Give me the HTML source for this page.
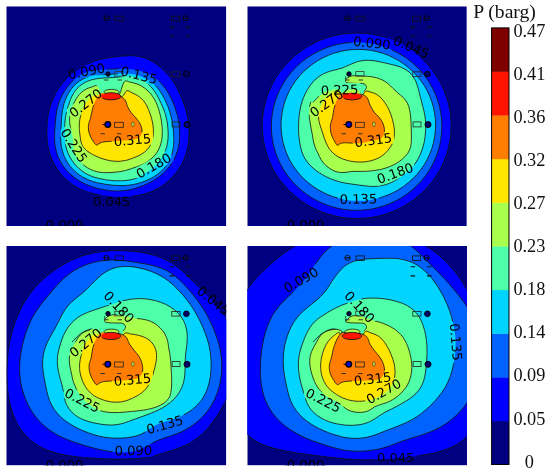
<!DOCTYPE html><html><head><meta charset="utf-8"><style>html,body{margin:0;padding:0;background:#fff;width:550px;height:473px;overflow:hidden}svg{display:block}</style></head><body>
<svg width="550" height="473" viewBox="0 0 550 473">
<defs>
<clipPath id="cTL"><rect x="6.3" y="6.3" width="220.0" height="219.7"/></clipPath>
<clipPath id="cTR"><rect x="247.3" y="6.3" width="219.5" height="219.7"/></clipPath>
<clipPath id="cBL"><rect x="6.3" y="246.0" width="220.0" height="219.4"/></clipPath>
<clipPath id="cBR"><rect x="247.3" y="246.0" width="219.7" height="219.4"/></clipPath>
<clipPath id="lTL"><rect x="65.8" y="64.5" width="41.5" height="13.0" transform="rotate(-11.0 86.5 71.0)"/><rect x="118.3" y="68.5" width="41.5" height="13.0" transform="rotate(14.0 139.0 75.0)"/><rect x="64.9" y="96.5" width="41.5" height="13.0" transform="rotate(-38.0 85.6 103.0)"/><rect x="53.4" y="139.0" width="41.5" height="13.0" transform="rotate(57.0 74.1 145.5)"/><rect x="111.7" y="133.3" width="41.5" height="13.0" transform="rotate(-5.0 132.4 139.8)"/><rect x="132.8" y="159.0" width="41.5" height="13.0" transform="rotate(-29.5 153.5 165.5)"/><rect x="91.0" y="195.0" width="41.5" height="13.0" transform="rotate(0.0 111.7 201.5)"/><rect x="43.9" y="217.3" width="41.5" height="13.0" transform="rotate(0.0 64.6 223.8)"/></clipPath><clipPath id="lTR"><rect x="351.2" y="36.4" width="41.5" height="13.0" transform="rotate(6.0 371.9 42.9)"/><rect x="390.7" y="40.5" width="41.5" height="13.0" transform="rotate(23.0 411.4 47.0)"/><rect x="318.9" y="83.3" width="41.5" height="13.0" transform="rotate(-2.0 339.6 89.8)"/><rect x="305.7" y="96.6" width="41.5" height="13.0" transform="rotate(-35.5 326.4 103.1)"/><rect x="352.5" y="133.5" width="41.5" height="13.0" transform="rotate(-8.0 373.2 140.0)"/><rect x="374.4" y="166.6" width="41.5" height="13.0" transform="rotate(-20.0 395.1 173.1)"/><rect x="337.7" y="192.4" width="41.5" height="13.0" transform="rotate(-1.0 358.4 198.9)"/><rect x="284.9" y="217.3" width="41.5" height="13.0" transform="rotate(0.0 305.6 223.8)"/></clipPath><clipPath id="lBL"><rect x="98.4" y="300.3" width="41.5" height="13.0" transform="rotate(47.0 119.1 306.8)"/><rect x="192.8" y="294.2" width="41.5" height="13.0" transform="rotate(39.0 213.5 300.7)"/><rect x="64.8" y="336.0" width="41.5" height="13.0" transform="rotate(-39.0 85.5 342.5)"/><rect x="111.7" y="373.0" width="41.5" height="13.0" transform="rotate(-5.0 132.4 379.5)"/><rect x="61.7" y="393.7" width="41.5" height="13.0" transform="rotate(27.0 82.4 400.2)"/><rect x="144.1" y="418.1" width="41.5" height="13.0" transform="rotate(-16.0 164.8 424.6)"/><rect x="112.7" y="444.0" width="41.5" height="13.0" transform="rotate(-1.0 133.4 450.5)"/><rect x="43.9" y="457.4" width="41.5" height="13.0" transform="rotate(0.0 64.6 463.9)"/></clipPath><clipPath id="lBR"><rect x="280.2" y="273.3" width="41.5" height="13.0" transform="rotate(-29.5 300.9 279.8)"/><rect x="339.0" y="300.3" width="41.5" height="13.0" transform="rotate(47.5 359.7 306.8)"/><rect x="435.4" y="335.5" width="41.5" height="13.0" transform="rotate(85.0 456.1 342.0)"/><rect x="351.8" y="372.2" width="41.5" height="13.0" transform="rotate(-7.0 372.5 378.7)"/><rect x="362.8" y="384.7" width="41.5" height="13.0" transform="rotate(-29.0 383.5 391.2)"/><rect x="302.7" y="393.7" width="41.5" height="13.0" transform="rotate(27.0 323.4 400.2)"/><rect x="375.0" y="450.7" width="41.5" height="13.0" transform="rotate(0.0 395.7 457.2)"/><rect x="284.9" y="457.4" width="41.5" height="13.0" transform="rotate(0.0 305.6 463.9)"/></clipPath>
</defs>
<g clip-path="url(#cTL)">
<rect x="6.3" y="6.3" width="220.0" height="219.7" fill="#000080"/>
<path d="M188.7,124.0C189.0,127.3 189.2,130.7 189.1,134.0C189.0,137.4 188.8,140.8 188.2,144.2C187.7,147.5 186.9,150.9 185.9,154.2C184.8,157.4 183.5,160.7 181.9,163.8C180.3,166.8 178.4,169.8 176.3,172.6C174.2,175.3 171.8,177.9 169.2,180.2C166.7,182.6 163.9,184.7 161.0,186.6C158.1,188.4 155.0,190.0 151.9,191.4C148.8,192.7 145.5,193.7 142.2,194.5C139.0,195.3 135.6,195.8 132.3,196.2C129.1,196.5 125.8,196.6 122.6,196.7C119.3,196.7 116.2,196.6 113.0,196.4C109.8,196.2 106.7,195.9 103.6,195.5C100.5,195.1 97.3,194.6 94.3,193.9C91.2,193.1 88.1,192.3 85.2,191.2C82.2,190.1 79.3,188.7 76.5,187.2C73.8,185.6 71.1,183.8 68.7,181.8C66.2,179.8 63.9,177.5 61.8,175.2C59.7,172.8 57.8,170.3 56.2,167.6C54.5,165.0 53.1,162.2 51.9,159.3C50.7,156.5 49.7,153.5 48.9,150.5C48.2,147.6 47.7,144.6 47.4,141.6C47.0,138.6 46.9,135.6 46.8,132.7C46.8,129.8 46.9,126.9 47.1,124.0C47.3,121.1 47.6,118.3 48.1,115.5C48.6,112.6 49.2,109.8 50.0,107.1C50.8,104.4 51.8,101.7 52.9,99.1C54.0,96.5 55.3,93.9 56.7,91.5C58.1,89.1 59.7,86.7 61.5,84.5C63.2,82.2 65.2,80.1 67.2,78.2C69.2,76.3 71.5,74.5 73.7,72.8C76.0,71.2 78.4,69.7 80.8,68.2C83.2,66.7 85.6,65.3 88.1,64.0C90.7,62.7 93.3,61.5 96.0,60.6C98.7,59.6 101.5,59.0 104.4,58.4C107.2,57.9 110.1,57.5 113.0,57.1C115.9,56.7 118.9,56.4 121.9,56.1C125.0,55.9 128.2,55.6 131.3,55.7C134.5,55.8 137.7,56.1 140.8,56.8C143.9,57.5 147.0,58.7 149.9,60.1C152.7,61.6 155.5,63.4 158.0,65.3C160.6,67.2 163.0,69.4 165.3,71.7C167.5,74.0 169.6,76.5 171.5,79.1C173.4,81.7 175.0,84.5 176.6,87.3C178.1,90.1 179.5,93.0 180.8,95.9C182.1,98.8 183.3,101.8 184.3,104.9C185.4,107.9 186.3,111.1 187.0,114.3C187.7,117.4 188.3,120.7 188.7,124.0Z" fill="#0000FF" stroke="#111" stroke-width="0.8"/>
<path d="M179.0,124.0C179.3,126.9 179.6,129.8 179.6,132.8C179.7,135.7 179.6,138.8 179.3,141.8C178.9,144.7 178.4,147.8 177.5,150.7C176.6,153.6 175.5,156.6 174.1,159.3C172.7,162.0 171.0,164.6 169.1,167.0C167.2,169.4 165.0,171.7 162.7,173.7C160.5,175.8 158.0,177.6 155.4,179.3C152.9,180.9 150.2,182.4 147.4,183.7C144.7,185.0 141.9,186.1 139.1,187.1C136.3,188.1 133.5,188.9 130.6,189.6C127.7,190.2 124.7,190.6 121.8,190.8C118.9,191.1 115.9,191.0 113.0,190.9C110.1,190.7 107.2,190.3 104.3,189.8C101.5,189.4 98.6,188.7 95.9,187.9C93.1,187.1 90.3,186.2 87.7,185.1C85.0,184.0 82.4,182.7 79.9,181.3C77.5,179.8 75.1,178.1 72.8,176.3C70.6,174.5 68.5,172.5 66.6,170.4C64.7,168.3 63.0,165.9 61.5,163.5C60.0,161.1 58.7,158.5 57.7,155.9C56.7,153.3 56.0,150.5 55.5,147.8C54.9,145.1 54.7,142.3 54.6,139.6C54.5,137.0 54.6,134.3 54.7,131.7C54.8,129.1 55.0,126.5 55.2,124.0C55.4,121.5 55.6,119.0 55.9,116.5C56.2,114.0 56.6,111.5 57.1,109.0C57.7,106.6 58.4,104.1 59.2,101.7C60.1,99.4 61.2,97.0 62.4,94.8C63.6,92.6 65.0,90.4 66.5,88.3C68.0,86.2 69.6,84.2 71.4,82.4C73.1,80.5 75.0,78.7 77.1,77.2C79.2,75.7 81.4,74.3 83.7,73.2C86.0,72.2 88.5,71.4 91.0,70.8C93.4,70.2 96.0,70.0 98.5,69.8C100.9,69.5 103.4,69.5 105.8,69.4C108.2,69.2 110.6,69.1 113.0,69.1C115.4,69.0 117.8,68.8 120.3,68.8C122.7,68.8 125.2,68.8 127.7,69.0C130.3,69.1 132.9,69.4 135.4,69.8C138.0,70.3 140.6,70.9 143.1,71.8C145.6,72.7 148.2,73.8 150.5,75.1C152.9,76.4 155.2,77.9 157.3,79.7C159.4,81.4 161.4,83.4 163.1,85.5C164.9,87.6 166.5,89.9 167.9,92.3C169.3,94.7 170.6,97.1 171.8,99.7C172.9,102.2 174.0,104.8 174.9,107.4C175.8,110.1 176.7,112.8 177.4,115.5C178.0,118.3 178.6,121.1 179.0,124.0Z" fill="#0063FF" stroke="#111" stroke-width="0.8"/>
<path d="M172.5,124.0C173.0,126.6 173.3,129.2 173.5,132.0C173.7,134.7 173.9,137.5 173.8,140.3C173.7,143.1 173.6,146.0 173.1,148.9C172.6,151.7 171.9,154.7 170.8,157.4C169.7,160.1 168.3,162.7 166.6,165.1C164.9,167.5 162.9,169.7 160.7,171.7C158.5,173.7 156.1,175.4 153.6,176.9C151.1,178.4 148.4,179.6 145.8,180.8C143.1,181.9 140.4,182.8 137.7,183.5C134.9,184.3 132.1,184.8 129.4,185.1C126.6,185.5 123.8,185.6 121.1,185.6C118.4,185.6 115.7,185.4 113.0,185.2C110.3,185.0 107.7,184.6 105.1,184.2C102.5,183.8 99.8,183.3 97.3,182.7C94.7,182.0 92.1,181.3 89.7,180.3C87.2,179.3 84.8,178.2 82.5,176.9C80.2,175.5 78.0,174.0 76.0,172.3C74.0,170.5 72.1,168.6 70.4,166.6C68.8,164.5 67.3,162.3 66.1,160.0C64.9,157.7 63.8,155.3 63.0,152.9C62.2,150.4 61.6,147.9 61.2,145.5C60.8,143.0 60.7,140.5 60.7,138.0C60.6,135.6 60.8,133.2 60.8,130.9C60.9,128.5 61.0,126.3 61.2,124.0C61.3,121.7 61.4,119.5 61.6,117.2C61.8,115.0 62.1,112.7 62.5,110.5C62.9,108.2 63.4,105.9 64.0,103.7C64.7,101.5 65.5,99.3 66.5,97.1C67.4,95.0 68.6,92.9 69.9,90.9C71.2,89.0 72.8,87.1 74.4,85.4C76.1,83.7 77.9,82.2 79.9,80.8C81.8,79.5 84.0,78.4 86.2,77.5C88.3,76.6 90.7,76.0 92.9,75.6C95.2,75.1 97.5,74.9 99.8,74.7C102.1,74.6 104.3,74.6 106.5,74.5C108.7,74.3 110.8,74.2 113.0,74.1C115.2,74.0 117.4,73.7 119.6,73.6C121.9,73.5 124.2,73.4 126.5,73.5C128.9,73.6 131.3,73.8 133.6,74.2C136.0,74.7 138.3,75.3 140.6,76.2C142.9,77.0 145.2,78.1 147.3,79.3C149.4,80.6 151.4,82.1 153.3,83.7C155.2,85.3 156.9,87.2 158.4,89.1C160.0,91.1 161.3,93.2 162.6,95.4C163.9,97.5 165.0,99.8 166.0,102.0C167.0,104.3 168.0,106.7 168.8,109.0C169.7,111.4 170.4,113.9 171.0,116.4C171.7,118.9 172.1,121.4 172.5,124.0Z" fill="#00D4FF" stroke="#111" stroke-width="0.8"/>
<path d="M167.5,124.0C167.8,126.4 168.0,128.8 168.1,131.3C168.2,133.7 168.2,136.2 168.0,138.7C167.8,141.2 167.4,143.8 166.8,146.3C166.2,148.8 165.3,151.2 164.2,153.6C163.1,155.9 161.7,158.1 160.1,160.2C158.6,162.2 156.8,164.1 154.9,165.9C153.0,167.6 150.9,169.2 148.9,170.8C146.8,172.3 144.8,173.9 142.6,175.2C140.3,176.5 138.0,177.7 135.6,178.5C133.2,179.3 130.6,179.8 128.1,180.2C125.5,180.6 123.0,180.7 120.5,180.8C118.0,180.9 115.5,180.8 113.0,180.6C110.5,180.4 108.1,180.1 105.7,179.8C103.2,179.4 100.8,178.9 98.4,178.3C96.1,177.7 93.7,177.1 91.4,176.2C89.1,175.2 86.9,174.2 84.8,172.9C82.7,171.6 80.7,170.1 78.9,168.5C77.1,166.8 75.4,165.0 73.9,163.1C72.4,161.2 71.1,159.1 69.9,157.0C68.8,155.0 67.8,152.7 67.1,150.5C66.3,148.3 65.8,146.0 65.4,143.7C65.1,141.4 65.0,139.1 64.9,136.9C64.8,134.7 64.8,132.5 64.8,130.4C64.7,128.2 64.7,126.1 64.8,124.0C64.9,121.9 65.1,119.8 65.4,117.7C65.7,115.7 66.2,113.6 66.7,111.6C67.2,109.5 67.7,107.5 68.4,105.5C69.0,103.5 69.7,101.5 70.5,99.5C71.3,97.5 72.2,95.4 73.4,93.6C74.5,91.7 75.8,89.9 77.3,88.3C78.8,86.7 80.5,85.3 82.3,84.1C84.2,82.8 86.2,81.8 88.2,81.0C90.2,80.2 92.3,79.6 94.4,79.2C96.5,78.7 98.7,78.5 100.7,78.3C102.8,78.0 104.9,78.0 106.9,77.9C109.0,77.8 111.0,77.7 113.0,77.6C115.0,77.4 117.1,77.2 119.2,77.0C121.3,76.8 123.5,76.4 125.8,76.3C128.0,76.3 130.4,76.3 132.6,76.6C134.9,77.0 137.2,77.6 139.3,78.5C141.4,79.3 143.5,80.5 145.4,81.8C147.3,83.1 149.0,84.7 150.6,86.4C152.2,88.1 153.6,89.9 154.9,91.8C156.2,93.7 157.3,95.8 158.4,97.8C159.5,99.8 160.5,101.8 161.4,103.9C162.4,106.0 163.3,108.1 164.1,110.3C164.9,112.5 165.6,114.7 166.1,117.0C166.7,119.3 167.1,121.6 167.5,124.0Z" fill="#4DFFA9" stroke="#111" stroke-width="0.8"/>
<path d="M161.8,124.0C162.1,126.1 162.3,128.3 162.3,130.5C162.3,132.7 162.3,134.9 162.1,137.2C161.8,139.4 161.5,141.7 160.8,143.8C160.2,146.0 159.4,148.2 158.3,150.2C157.2,152.1 155.9,154.1 154.4,155.8C152.9,157.4 151.1,159.0 149.3,160.3C147.5,161.7 145.5,162.8 143.6,163.8C141.6,164.9 139.5,165.7 137.5,166.5C135.5,167.3 133.5,168.0 131.5,168.6C129.5,169.3 127.5,169.9 125.4,170.5C123.4,171.0 121.4,171.3 119.3,171.7C117.2,172.0 115.1,172.2 113.0,172.4C110.9,172.6 108.7,172.7 106.6,172.7C104.4,172.7 102.2,172.6 100.1,172.3C97.9,172.0 95.7,171.5 93.6,170.7C91.6,170.0 89.5,169.0 87.7,167.9C85.8,166.8 84.0,165.4 82.4,163.9C80.8,162.4 79.3,160.7 78.0,159.0C76.8,157.2 75.6,155.3 74.8,153.3C74.1,151.3 73.7,149.0 73.4,146.9C73.1,144.7 73.4,142.5 73.2,140.5C73.1,138.5 72.7,136.7 72.3,134.9C72.0,133.1 71.3,131.4 70.9,129.5C70.5,127.7 70.1,125.9 69.8,124.0C69.6,122.1 69.5,120.2 69.6,118.3C69.7,116.4 70.1,114.5 70.5,112.6C70.9,110.8 71.6,108.9 72.3,107.1C72.9,105.3 73.7,103.5 74.6,101.8C75.4,100.1 76.4,98.3 77.5,96.8C78.7,95.2 80.0,93.7 81.4,92.4C82.8,91.1 84.5,90.0 86.2,89.1C87.9,88.2 89.8,87.6 91.7,87.1C93.6,86.6 95.5,84.7 97.4,86.2C99.2,87.8 100.9,94.8 102.7,96.5C104.4,98.2 106.1,96.5 107.8,96.5C109.5,96.5 111.2,96.5 113.0,96.5C114.8,96.5 116.6,98.9 118.5,96.5C120.3,94.1 122.3,84.3 124.3,81.9C126.2,79.6 128.3,81.9 130.3,82.2C132.3,82.5 134.4,83.0 136.3,83.7C138.2,84.3 140.1,85.2 141.9,86.3C143.7,87.4 145.4,88.6 147.0,90.0C148.6,91.4 150.0,93.0 151.3,94.6C152.6,96.2 153.8,98.0 154.8,99.9C155.8,101.7 156.7,103.6 157.4,105.6C158.2,107.5 158.8,109.6 159.4,111.6C159.9,113.6 160.4,115.6 160.8,117.7C161.2,119.8 161.6,121.9 161.8,124.0Z" fill="#A9FF4D" stroke="#111" stroke-width="0.8"/>
<path d="M152.8,124.0C153.1,125.7 153.3,127.5 153.4,129.3C153.4,131.1 153.4,133.0 153.2,134.8C153.0,136.6 152.8,138.5 152.2,140.3C151.7,142.0 151.1,143.8 150.2,145.4C149.3,147.1 148.1,148.6 146.8,150.0C145.6,151.3 144.0,152.5 142.5,153.5C141.0,154.6 139.3,155.4 137.7,156.2C136.0,156.9 134.4,157.6 132.7,158.2C131.1,158.8 129.5,159.4 127.9,159.9C126.2,160.3 124.6,160.7 122.9,160.9C121.2,161.2 119.6,161.3 117.9,161.4C116.3,161.4 114.6,161.3 113.0,161.1C111.4,161.0 109.8,160.7 108.2,160.3C106.6,160.0 105.1,159.6 103.6,159.1C102.1,158.6 100.6,158.1 99.1,157.5C97.6,156.9 96.2,156.3 94.8,155.6C93.3,154.9 91.9,154.2 90.5,153.3C89.1,152.4 87.8,151.5 86.5,150.5C85.3,149.4 84.1,148.2 83.2,146.9C82.3,145.5 81.6,143.9 81.1,142.4C80.7,140.8 80.5,139.1 80.3,137.5C80.1,136.0 79.9,134.4 79.7,132.9C79.5,131.4 79.3,129.9 79.3,128.4C79.2,127.0 79.2,125.5 79.3,124.0C79.4,122.5 79.5,121.1 79.8,119.6C80.0,118.2 80.4,116.8 80.7,115.4C81.1,114.0 81.6,112.6 82.1,111.2C82.6,109.8 83.1,108.5 83.8,107.1C84.4,105.8 85.1,104.4 85.9,103.2C86.7,102.0 87.7,100.8 88.7,99.7C89.8,98.7 91.0,97.7 92.2,96.9C93.4,96.0 94.7,94.7 96.0,94.6C97.3,94.5 98.7,96.2 100.1,96.5C101.4,96.8 102.8,96.5 104.2,96.5C105.6,96.5 107.0,96.5 108.5,96.5C110.0,96.5 111.5,96.5 113.0,96.5C114.5,96.5 116.1,96.5 117.7,96.5C119.2,96.5 120.8,97.5 122.3,96.5C123.8,95.5 125.3,91.4 126.8,90.7C128.3,90.0 129.8,91.8 131.2,92.4C132.7,93.0 134.2,93.7 135.7,94.5C137.1,95.3 138.5,96.1 139.8,97.2C141.1,98.2 142.4,99.4 143.5,100.6C144.5,101.9 145.4,103.3 146.3,104.8C147.1,106.2 147.7,107.8 148.4,109.3C149.0,110.9 149.6,112.5 150.2,114.0C150.7,115.6 151.2,117.3 151.7,118.9C152.1,120.6 152.5,122.3 152.8,124.0Z" fill="#FFE600" stroke="#111" stroke-width="0.8"/>
<path d="M101.0,93.3C103.4,92.4 107.1,94.5 110.2,95.0C113.2,95.5 116.9,95.5 119.4,96.3C121.8,97.1 123.6,97.9 124.9,99.7C126.3,101.4 126.5,104.4 127.6,106.7C128.7,108.9 130.0,111.1 131.4,113.0C132.8,114.8 134.5,116.1 135.9,117.9C137.4,119.8 139.2,121.7 140.2,124.0C141.2,126.3 142.3,129.6 142.0,132.0C141.8,134.3 140.6,136.7 138.6,138.0C136.6,139.4 133.5,139.6 130.1,140.0C126.6,140.5 122.0,140.7 118.0,141.0C114.0,141.3 109.0,141.3 106.0,141.6C103.0,141.9 101.6,142.4 100.0,143.0C98.4,143.6 97.7,145.3 96.5,145.0C95.3,144.7 94.2,142.8 93.0,141.0C91.9,139.2 90.2,136.7 89.5,134.1C88.7,131.6 88.2,128.6 88.4,125.8C88.6,123.0 90.0,120.2 90.7,117.4C91.4,114.6 91.6,111.8 92.5,108.9C93.3,106.1 94.2,103.0 95.6,100.4C97.0,97.8 98.6,94.2 101.0,93.3Z" fill="#FF7D00" stroke="#111" stroke-width="0.8"/>
<path d="M119.0,92.0C119.0,92.3 118.8,92.7 118.4,93.0C118.1,93.3 117.5,93.6 116.8,93.8C116.1,94.1 115.3,94.3 114.4,94.4C113.5,94.5 112.5,94.6 111.5,94.6C110.5,94.6 109.5,94.5 108.6,94.4C107.7,94.3 106.9,94.1 106.2,93.8C105.5,93.6 104.9,93.3 104.6,93.0C104.2,92.7 104.0,92.3 104.0,92.0C104.0,91.7 104.2,91.3 104.6,91.0C104.9,90.7 105.5,90.4 106.2,90.2C106.9,89.9 107.7,89.7 108.6,89.6C109.5,89.5 110.5,89.4 111.5,89.4C112.5,89.4 113.5,89.5 114.4,89.6C115.3,89.7 116.1,89.9 116.8,90.2C117.5,90.4 118.1,90.7 118.4,91.0C118.8,91.3 119.0,91.7 119.0,92.0Z" fill="#A9FF4D" stroke="#111" stroke-width="0.8"/>
<path d="M120.8,96.3C120.8,96.7 120.6,97.1 120.3,97.4C120.0,97.8 119.5,98.1 118.9,98.4C118.3,98.7 117.6,99.0 116.8,99.2C115.9,99.4 115.0,99.6 114.0,99.7C113.1,99.8 112.0,99.9 111.0,99.9C110.0,99.9 108.9,99.8 108.0,99.7C107.0,99.6 106.1,99.4 105.2,99.2C104.4,99.0 103.7,98.7 103.1,98.4C102.5,98.1 102.0,97.8 101.7,97.4C101.4,97.1 101.2,96.7 101.2,96.3C101.2,95.9 101.4,95.5 101.7,95.2C102.0,94.8 102.5,94.5 103.1,94.2C103.7,93.9 104.4,93.6 105.2,93.4C106.1,93.2 107.0,93.0 108.0,92.9C108.9,92.8 110.0,92.7 111.0,92.7C112.0,92.7 113.1,92.8 114.0,92.9C115.0,93.0 115.9,93.2 116.8,93.4C117.6,93.6 118.3,93.9 118.9,94.2C119.5,94.5 120.0,94.8 120.3,95.2C120.6,95.5 120.8,95.9 120.8,96.3Z" fill="#FF1400" stroke="#111" stroke-width="0.8"/>
<g clip-path="url(#lTL)"><g opacity="0.999">
<rect x="6.3" y="6.3" width="220.0" height="219.7" fill="#000080"/>
<path d="M188.7,124.0C189.0,127.3 189.2,130.7 189.1,134.0C189.0,137.4 188.8,140.8 188.2,144.2C187.7,147.5 186.9,150.9 185.9,154.2C184.8,157.4 183.5,160.7 181.9,163.8C180.3,166.8 178.4,169.8 176.3,172.6C174.2,175.3 171.8,177.9 169.2,180.2C166.7,182.6 163.9,184.7 161.0,186.6C158.1,188.4 155.0,190.0 151.9,191.4C148.8,192.7 145.5,193.7 142.2,194.5C139.0,195.3 135.6,195.8 132.3,196.2C129.1,196.5 125.8,196.6 122.6,196.7C119.3,196.7 116.2,196.6 113.0,196.4C109.8,196.2 106.7,195.9 103.6,195.5C100.5,195.1 97.3,194.6 94.3,193.9C91.2,193.1 88.1,192.3 85.2,191.2C82.2,190.1 79.3,188.7 76.5,187.2C73.8,185.6 71.1,183.8 68.7,181.8C66.2,179.8 63.9,177.5 61.8,175.2C59.7,172.8 57.8,170.3 56.2,167.6C54.5,165.0 53.1,162.2 51.9,159.3C50.7,156.5 49.7,153.5 48.9,150.5C48.2,147.6 47.7,144.6 47.4,141.6C47.0,138.6 46.9,135.6 46.8,132.7C46.8,129.8 46.9,126.9 47.1,124.0C47.3,121.1 47.6,118.3 48.1,115.5C48.6,112.6 49.2,109.8 50.0,107.1C50.8,104.4 51.8,101.7 52.9,99.1C54.0,96.5 55.3,93.9 56.7,91.5C58.1,89.1 59.7,86.7 61.5,84.5C63.2,82.2 65.2,80.1 67.2,78.2C69.2,76.3 71.5,74.5 73.7,72.8C76.0,71.2 78.4,69.7 80.8,68.2C83.2,66.7 85.6,65.3 88.1,64.0C90.7,62.7 93.3,61.5 96.0,60.6C98.7,59.6 101.5,59.0 104.4,58.4C107.2,57.9 110.1,57.5 113.0,57.1C115.9,56.7 118.9,56.4 121.9,56.1C125.0,55.9 128.2,55.6 131.3,55.7C134.5,55.8 137.7,56.1 140.8,56.8C143.9,57.5 147.0,58.7 149.9,60.1C152.7,61.6 155.5,63.4 158.0,65.3C160.6,67.2 163.0,69.4 165.3,71.7C167.5,74.0 169.6,76.5 171.5,79.1C173.4,81.7 175.0,84.5 176.6,87.3C178.1,90.1 179.5,93.0 180.8,95.9C182.1,98.8 183.3,101.8 184.3,104.9C185.4,107.9 186.3,111.1 187.0,114.3C187.7,117.4 188.3,120.7 188.7,124.0Z" fill="#0000FF"/>
<path d="M179.0,124.0C179.3,126.9 179.6,129.8 179.6,132.8C179.7,135.7 179.6,138.8 179.3,141.8C178.9,144.7 178.4,147.8 177.5,150.7C176.6,153.6 175.5,156.6 174.1,159.3C172.7,162.0 171.0,164.6 169.1,167.0C167.2,169.4 165.0,171.7 162.7,173.7C160.5,175.8 158.0,177.6 155.4,179.3C152.9,180.9 150.2,182.4 147.4,183.7C144.7,185.0 141.9,186.1 139.1,187.1C136.3,188.1 133.5,188.9 130.6,189.6C127.7,190.2 124.7,190.6 121.8,190.8C118.9,191.1 115.9,191.0 113.0,190.9C110.1,190.7 107.2,190.3 104.3,189.8C101.5,189.4 98.6,188.7 95.9,187.9C93.1,187.1 90.3,186.2 87.7,185.1C85.0,184.0 82.4,182.7 79.9,181.3C77.5,179.8 75.1,178.1 72.8,176.3C70.6,174.5 68.5,172.5 66.6,170.4C64.7,168.3 63.0,165.9 61.5,163.5C60.0,161.1 58.7,158.5 57.7,155.9C56.7,153.3 56.0,150.5 55.5,147.8C54.9,145.1 54.7,142.3 54.6,139.6C54.5,137.0 54.6,134.3 54.7,131.7C54.8,129.1 55.0,126.5 55.2,124.0C55.4,121.5 55.6,119.0 55.9,116.5C56.2,114.0 56.6,111.5 57.1,109.0C57.7,106.6 58.4,104.1 59.2,101.7C60.1,99.4 61.2,97.0 62.4,94.8C63.6,92.6 65.0,90.4 66.5,88.3C68.0,86.2 69.6,84.2 71.4,82.4C73.1,80.5 75.0,78.7 77.1,77.2C79.2,75.7 81.4,74.3 83.7,73.2C86.0,72.2 88.5,71.4 91.0,70.8C93.4,70.2 96.0,70.0 98.5,69.8C100.9,69.5 103.4,69.5 105.8,69.4C108.2,69.2 110.6,69.1 113.0,69.1C115.4,69.0 117.8,68.8 120.3,68.8C122.7,68.8 125.2,68.8 127.7,69.0C130.3,69.1 132.9,69.4 135.4,69.8C138.0,70.3 140.6,70.9 143.1,71.8C145.6,72.7 148.2,73.8 150.5,75.1C152.9,76.4 155.2,77.9 157.3,79.7C159.4,81.4 161.4,83.4 163.1,85.5C164.9,87.6 166.5,89.9 167.9,92.3C169.3,94.7 170.6,97.1 171.8,99.7C172.9,102.2 174.0,104.8 174.9,107.4C175.8,110.1 176.7,112.8 177.4,115.5C178.0,118.3 178.6,121.1 179.0,124.0Z" fill="#0063FF"/>
<path d="M172.5,124.0C173.0,126.6 173.3,129.2 173.5,132.0C173.7,134.7 173.9,137.5 173.8,140.3C173.7,143.1 173.6,146.0 173.1,148.9C172.6,151.7 171.9,154.7 170.8,157.4C169.7,160.1 168.3,162.7 166.6,165.1C164.9,167.5 162.9,169.7 160.7,171.7C158.5,173.7 156.1,175.4 153.6,176.9C151.1,178.4 148.4,179.6 145.8,180.8C143.1,181.9 140.4,182.8 137.7,183.5C134.9,184.3 132.1,184.8 129.4,185.1C126.6,185.5 123.8,185.6 121.1,185.6C118.4,185.6 115.7,185.4 113.0,185.2C110.3,185.0 107.7,184.6 105.1,184.2C102.5,183.8 99.8,183.3 97.3,182.7C94.7,182.0 92.1,181.3 89.7,180.3C87.2,179.3 84.8,178.2 82.5,176.9C80.2,175.5 78.0,174.0 76.0,172.3C74.0,170.5 72.1,168.6 70.4,166.6C68.8,164.5 67.3,162.3 66.1,160.0C64.9,157.7 63.8,155.3 63.0,152.9C62.2,150.4 61.6,147.9 61.2,145.5C60.8,143.0 60.7,140.5 60.7,138.0C60.6,135.6 60.8,133.2 60.8,130.9C60.9,128.5 61.0,126.3 61.2,124.0C61.3,121.7 61.4,119.5 61.6,117.2C61.8,115.0 62.1,112.7 62.5,110.5C62.9,108.2 63.4,105.9 64.0,103.7C64.7,101.5 65.5,99.3 66.5,97.1C67.4,95.0 68.6,92.9 69.9,90.9C71.2,89.0 72.8,87.1 74.4,85.4C76.1,83.7 77.9,82.2 79.9,80.8C81.8,79.5 84.0,78.4 86.2,77.5C88.3,76.6 90.7,76.0 92.9,75.6C95.2,75.1 97.5,74.9 99.8,74.7C102.1,74.6 104.3,74.6 106.5,74.5C108.7,74.3 110.8,74.2 113.0,74.1C115.2,74.0 117.4,73.7 119.6,73.6C121.9,73.5 124.2,73.4 126.5,73.5C128.9,73.6 131.3,73.8 133.6,74.2C136.0,74.7 138.3,75.3 140.6,76.2C142.9,77.0 145.2,78.1 147.3,79.3C149.4,80.6 151.4,82.1 153.3,83.7C155.2,85.3 156.9,87.2 158.4,89.1C160.0,91.1 161.3,93.2 162.6,95.4C163.9,97.5 165.0,99.8 166.0,102.0C167.0,104.3 168.0,106.7 168.8,109.0C169.7,111.4 170.4,113.9 171.0,116.4C171.7,118.9 172.1,121.4 172.5,124.0Z" fill="#00D4FF"/>
<path d="M167.5,124.0C167.8,126.4 168.0,128.8 168.1,131.3C168.2,133.7 168.2,136.2 168.0,138.7C167.8,141.2 167.4,143.8 166.8,146.3C166.2,148.8 165.3,151.2 164.2,153.6C163.1,155.9 161.7,158.1 160.1,160.2C158.6,162.2 156.8,164.1 154.9,165.9C153.0,167.6 150.9,169.2 148.9,170.8C146.8,172.3 144.8,173.9 142.6,175.2C140.3,176.5 138.0,177.7 135.6,178.5C133.2,179.3 130.6,179.8 128.1,180.2C125.5,180.6 123.0,180.7 120.5,180.8C118.0,180.9 115.5,180.8 113.0,180.6C110.5,180.4 108.1,180.1 105.7,179.8C103.2,179.4 100.8,178.9 98.4,178.3C96.1,177.7 93.7,177.1 91.4,176.2C89.1,175.2 86.9,174.2 84.8,172.9C82.7,171.6 80.7,170.1 78.9,168.5C77.1,166.8 75.4,165.0 73.9,163.1C72.4,161.2 71.1,159.1 69.9,157.0C68.8,155.0 67.8,152.7 67.1,150.5C66.3,148.3 65.8,146.0 65.4,143.7C65.1,141.4 65.0,139.1 64.9,136.9C64.8,134.7 64.8,132.5 64.8,130.4C64.7,128.2 64.7,126.1 64.8,124.0C64.9,121.9 65.1,119.8 65.4,117.7C65.7,115.7 66.2,113.6 66.7,111.6C67.2,109.5 67.7,107.5 68.4,105.5C69.0,103.5 69.7,101.5 70.5,99.5C71.3,97.5 72.2,95.4 73.4,93.6C74.5,91.7 75.8,89.9 77.3,88.3C78.8,86.7 80.5,85.3 82.3,84.1C84.2,82.8 86.2,81.8 88.2,81.0C90.2,80.2 92.3,79.6 94.4,79.2C96.5,78.7 98.7,78.5 100.7,78.3C102.8,78.0 104.9,78.0 106.9,77.9C109.0,77.8 111.0,77.7 113.0,77.6C115.0,77.4 117.1,77.2 119.2,77.0C121.3,76.8 123.5,76.4 125.8,76.3C128.0,76.3 130.4,76.3 132.6,76.6C134.9,77.0 137.2,77.6 139.3,78.5C141.4,79.3 143.5,80.5 145.4,81.8C147.3,83.1 149.0,84.7 150.6,86.4C152.2,88.1 153.6,89.9 154.9,91.8C156.2,93.7 157.3,95.8 158.4,97.8C159.5,99.8 160.5,101.8 161.4,103.9C162.4,106.0 163.3,108.1 164.1,110.3C164.9,112.5 165.6,114.7 166.1,117.0C166.7,119.3 167.1,121.6 167.5,124.0Z" fill="#4DFFA9"/>
<path d="M161.8,124.0C162.1,126.1 162.3,128.3 162.3,130.5C162.3,132.7 162.3,134.9 162.1,137.2C161.8,139.4 161.5,141.7 160.8,143.8C160.2,146.0 159.4,148.2 158.3,150.2C157.2,152.1 155.9,154.1 154.4,155.8C152.9,157.4 151.1,159.0 149.3,160.3C147.5,161.7 145.5,162.8 143.6,163.8C141.6,164.9 139.5,165.7 137.5,166.5C135.5,167.3 133.5,168.0 131.5,168.6C129.5,169.3 127.5,169.9 125.4,170.5C123.4,171.0 121.4,171.3 119.3,171.7C117.2,172.0 115.1,172.2 113.0,172.4C110.9,172.6 108.7,172.7 106.6,172.7C104.4,172.7 102.2,172.6 100.1,172.3C97.9,172.0 95.7,171.5 93.6,170.7C91.6,170.0 89.5,169.0 87.7,167.9C85.8,166.8 84.0,165.4 82.4,163.9C80.8,162.4 79.3,160.7 78.0,159.0C76.8,157.2 75.6,155.3 74.8,153.3C74.1,151.3 73.7,149.0 73.4,146.9C73.1,144.7 73.4,142.5 73.2,140.5C73.1,138.5 72.7,136.7 72.3,134.9C72.0,133.1 71.3,131.4 70.9,129.5C70.5,127.7 70.1,125.9 69.8,124.0C69.6,122.1 69.5,120.2 69.6,118.3C69.7,116.4 70.1,114.5 70.5,112.6C70.9,110.8 71.6,108.9 72.3,107.1C72.9,105.3 73.7,103.5 74.6,101.8C75.4,100.1 76.4,98.3 77.5,96.8C78.7,95.2 80.0,93.7 81.4,92.4C82.8,91.1 84.5,90.0 86.2,89.1C87.9,88.2 89.8,87.6 91.7,87.1C93.6,86.6 95.5,84.7 97.4,86.2C99.2,87.8 100.9,94.8 102.7,96.5C104.4,98.2 106.1,96.5 107.8,96.5C109.5,96.5 111.2,96.5 113.0,96.5C114.8,96.5 116.6,98.9 118.5,96.5C120.3,94.1 122.3,84.3 124.3,81.9C126.2,79.6 128.3,81.9 130.3,82.2C132.3,82.5 134.4,83.0 136.3,83.7C138.2,84.3 140.1,85.2 141.9,86.3C143.7,87.4 145.4,88.6 147.0,90.0C148.6,91.4 150.0,93.0 151.3,94.6C152.6,96.2 153.8,98.0 154.8,99.9C155.8,101.7 156.7,103.6 157.4,105.6C158.2,107.5 158.8,109.6 159.4,111.6C159.9,113.6 160.4,115.6 160.8,117.7C161.2,119.8 161.6,121.9 161.8,124.0Z" fill="#A9FF4D"/>
<path d="M152.8,124.0C153.1,125.7 153.3,127.5 153.4,129.3C153.4,131.1 153.4,133.0 153.2,134.8C153.0,136.6 152.8,138.5 152.2,140.3C151.7,142.0 151.1,143.8 150.2,145.4C149.3,147.1 148.1,148.6 146.8,150.0C145.6,151.3 144.0,152.5 142.5,153.5C141.0,154.6 139.3,155.4 137.7,156.2C136.0,156.9 134.4,157.6 132.7,158.2C131.1,158.8 129.5,159.4 127.9,159.9C126.2,160.3 124.6,160.7 122.9,160.9C121.2,161.2 119.6,161.3 117.9,161.4C116.3,161.4 114.6,161.3 113.0,161.1C111.4,161.0 109.8,160.7 108.2,160.3C106.6,160.0 105.1,159.6 103.6,159.1C102.1,158.6 100.6,158.1 99.1,157.5C97.6,156.9 96.2,156.3 94.8,155.6C93.3,154.9 91.9,154.2 90.5,153.3C89.1,152.4 87.8,151.5 86.5,150.5C85.3,149.4 84.1,148.2 83.2,146.9C82.3,145.5 81.6,143.9 81.1,142.4C80.7,140.8 80.5,139.1 80.3,137.5C80.1,136.0 79.9,134.4 79.7,132.9C79.5,131.4 79.3,129.9 79.3,128.4C79.2,127.0 79.2,125.5 79.3,124.0C79.4,122.5 79.5,121.1 79.8,119.6C80.0,118.2 80.4,116.8 80.7,115.4C81.1,114.0 81.6,112.6 82.1,111.2C82.6,109.8 83.1,108.5 83.8,107.1C84.4,105.8 85.1,104.4 85.9,103.2C86.7,102.0 87.7,100.8 88.7,99.7C89.8,98.7 91.0,97.7 92.2,96.9C93.4,96.0 94.7,94.7 96.0,94.6C97.3,94.5 98.7,96.2 100.1,96.5C101.4,96.8 102.8,96.5 104.2,96.5C105.6,96.5 107.0,96.5 108.5,96.5C110.0,96.5 111.5,96.5 113.0,96.5C114.5,96.5 116.1,96.5 117.7,96.5C119.2,96.5 120.8,97.5 122.3,96.5C123.8,95.5 125.3,91.4 126.8,90.7C128.3,90.0 129.8,91.8 131.2,92.4C132.7,93.0 134.2,93.7 135.7,94.5C137.1,95.3 138.5,96.1 139.8,97.2C141.1,98.2 142.4,99.4 143.5,100.6C144.5,101.9 145.4,103.3 146.3,104.8C147.1,106.2 147.7,107.8 148.4,109.3C149.0,110.9 149.6,112.5 150.2,114.0C150.7,115.6 151.2,117.3 151.7,118.9C152.1,120.6 152.5,122.3 152.8,124.0Z" fill="#FFE600"/>
<path d="M101.0,93.3C103.4,92.4 107.1,94.5 110.2,95.0C113.2,95.5 116.9,95.5 119.4,96.3C121.8,97.1 123.6,97.9 124.9,99.7C126.3,101.4 126.5,104.4 127.6,106.7C128.7,108.9 130.0,111.1 131.4,113.0C132.8,114.8 134.5,116.1 135.9,117.9C137.4,119.8 139.2,121.7 140.2,124.0C141.2,126.3 142.3,129.6 142.0,132.0C141.8,134.3 140.6,136.7 138.6,138.0C136.6,139.4 133.5,139.6 130.1,140.0C126.6,140.5 122.0,140.7 118.0,141.0C114.0,141.3 109.0,141.3 106.0,141.6C103.0,141.9 101.6,142.4 100.0,143.0C98.4,143.6 97.7,145.3 96.5,145.0C95.3,144.7 94.2,142.8 93.0,141.0C91.9,139.2 90.2,136.7 89.5,134.1C88.7,131.6 88.2,128.6 88.4,125.8C88.6,123.0 90.0,120.2 90.7,117.4C91.4,114.6 91.6,111.8 92.5,108.9C93.3,106.1 94.2,103.0 95.6,100.4C97.0,97.8 98.6,94.2 101.0,93.3Z" fill="#FF7D00"/>
<path d="M119.0,92.0C119.0,92.3 118.8,92.7 118.4,93.0C118.1,93.3 117.5,93.6 116.8,93.8C116.1,94.1 115.3,94.3 114.4,94.4C113.5,94.5 112.5,94.6 111.5,94.6C110.5,94.6 109.5,94.5 108.6,94.4C107.7,94.3 106.9,94.1 106.2,93.8C105.5,93.6 104.9,93.3 104.6,93.0C104.2,92.7 104.0,92.3 104.0,92.0C104.0,91.7 104.2,91.3 104.6,91.0C104.9,90.7 105.5,90.4 106.2,90.2C106.9,89.9 107.7,89.7 108.6,89.6C109.5,89.5 110.5,89.4 111.5,89.4C112.5,89.4 113.5,89.5 114.4,89.6C115.3,89.7 116.1,89.9 116.8,90.2C117.5,90.4 118.1,90.7 118.4,91.0C118.8,91.3 119.0,91.7 119.0,92.0Z" fill="#A9FF4D"/>
<path d="M120.8,96.3C120.8,96.7 120.6,97.1 120.3,97.4C120.0,97.8 119.5,98.1 118.9,98.4C118.3,98.7 117.6,99.0 116.8,99.2C115.9,99.4 115.0,99.6 114.0,99.7C113.1,99.8 112.0,99.9 111.0,99.9C110.0,99.9 108.9,99.8 108.0,99.7C107.0,99.6 106.1,99.4 105.2,99.2C104.4,99.0 103.7,98.7 103.1,98.4C102.5,98.1 102.0,97.8 101.7,97.4C101.4,97.1 101.2,96.7 101.2,96.3C101.2,95.9 101.4,95.5 101.7,95.2C102.0,94.8 102.5,94.5 103.1,94.2C103.7,93.9 104.4,93.6 105.2,93.4C106.1,93.2 107.0,93.0 108.0,92.9C108.9,92.8 110.0,92.7 111.0,92.7C112.0,92.7 113.1,92.8 114.0,92.9C115.0,93.0 115.9,93.2 116.8,93.4C117.6,93.6 118.3,93.9 118.9,94.2C119.5,94.5 120.0,94.8 120.3,95.2C120.6,95.5 120.8,95.9 120.8,96.3Z" fill="#FF1400"/>
</g></g>
<circle cx="106.5" cy="18.2" r="2.6" fill="none" stroke="#000" stroke-width="0.8"/><line x1="103.5" y1="18.2" x2="109.5" y2="18.2" stroke="#111" stroke-width="1.1"/><rect x="115.1" y="16.2" width="8.2" height="4.6" fill="none" stroke="#111" stroke-width="0.8"/><rect x="171.5" y="16.2" width="8.2" height="4.6" fill="none" stroke="#111" stroke-width="0.8"/><circle cx="185.5" cy="18.2" r="2.6" fill="none" stroke="#000" stroke-width="0.8"/><line x1="182.5" y1="18.2" x2="188.5" y2="18.2" stroke="#111" stroke-width="1.1"/><line x1="169.6" y1="27.1" x2="174.1" y2="27.1" stroke="#111" stroke-width="1.1"/><line x1="186.0" y1="27.1" x2="190.5" y2="27.1" stroke="#111" stroke-width="1.1"/><line x1="169.6" y1="36.2" x2="174.1" y2="36.2" stroke="#111" stroke-width="1.1"/><line x1="186.0" y1="36.2" x2="190.5" y2="36.2" stroke="#111" stroke-width="1.1"/><circle cx="108.0" cy="74.0" r="2.2" fill="#000050" stroke="#000" stroke-width="1.0"/><rect x="114.8" y="71.6" width="8.2" height="4.6" fill="none" stroke="#333" stroke-width="0.8"/><rect x="171.8" y="71.8" width="8.2" height="4.6" fill="none" stroke="#222" stroke-width="0.8"/><circle cx="186.4" cy="74.1" r="2.8" fill="#000070" stroke="#000" stroke-width="1.0"/><line x1="104.0" y1="80.0" x2="108.5" y2="80.0" stroke="#333" stroke-width="1.1"/><line x1="117.5" y1="80.0" x2="122.0" y2="80.0" stroke="#333" stroke-width="1.1"/><circle cx="107.8" cy="124.5" r="2.8" fill="#0000d8" stroke="#000" stroke-width="1.3"/><line x1="102.5" y1="124.5" x2="105.0" y2="124.5" stroke="#000" stroke-width="1.1"/><rect x="114.6" y="122.3" width="8.7" height="5.0" fill="none" stroke="#222" stroke-width="0.8"/><ellipse cx="132.9" cy="124.3" rx="1.3" ry="2.4" fill="#c8e040" stroke="#333" stroke-width="0.6"/><rect x="172.1" y="121.9" width="7.9" height="5.0" fill="none" stroke="#222" stroke-width="0.8"/><circle cx="187.0" cy="124.6" r="3.0" fill="#000070" stroke="#000" stroke-width="1.0"/><line x1="100.5" y1="133.8" x2="105.0" y2="133.8" stroke="#333" stroke-width="1.1"/><line x1="117.0" y1="133.8" x2="121.5" y2="133.8" stroke="#333" stroke-width="1.1"/>
<text x="86.5" y="75.77" transform="rotate(-11.0 86.5 71.0)" text-anchor="middle" font-family="DejaVu Sans, sans-serif" font-size="13.1" fill="#000">0.090</text>
<text x="139.0" y="79.77" transform="rotate(14.0 139.0 75.0)" text-anchor="middle" font-family="DejaVu Sans, sans-serif" font-size="13.1" fill="#000">0.135</text>
<text x="85.6" y="107.77" transform="rotate(-38.0 85.6 103.0)" text-anchor="middle" font-family="DejaVu Sans, sans-serif" font-size="13.1" fill="#000">0.270</text>
<text x="74.1" y="150.27" transform="rotate(57.0 74.1 145.5)" text-anchor="middle" font-family="DejaVu Sans, sans-serif" font-size="13.1" fill="#000">0.225</text>
<text x="132.4" y="144.57" transform="rotate(-5.0 132.4 139.8)" text-anchor="middle" font-family="DejaVu Sans, sans-serif" font-size="13.1" fill="#000">0.315</text>
<text x="153.5" y="170.27" transform="rotate(-29.5 153.5 165.5)" text-anchor="middle" font-family="DejaVu Sans, sans-serif" font-size="13.1" fill="#000">0.180</text>
<text x="111.7" y="206.27" transform="rotate(0.0 111.7 201.5)" text-anchor="middle" font-family="DejaVu Sans, sans-serif" font-size="13.1" fill="#000">0.045</text>
<text x="64.6" y="228.57" transform="rotate(0.0 64.6 223.8)" text-anchor="middle" font-family="DejaVu Sans, sans-serif" font-size="13.1" fill="#000">0.000</text>
</g>
<g clip-path="url(#cTR)">
<rect x="247.3" y="6.3" width="219.5" height="219.7" fill="#000080"/>
<path d="M451.2,125.8C451.2,130.6 450.8,135.5 450.0,140.3C449.3,145.1 448.1,149.8 446.6,154.4C445.1,159.0 443.1,163.6 440.9,167.9C438.7,172.2 436.0,176.4 433.2,180.3C430.3,184.2 427.0,187.9 423.5,191.3C420.0,194.8 416.2,198.0 412.2,200.8C408.3,203.6 404.0,206.2 399.6,208.4C395.2,210.6 390.6,212.5 385.9,214.0C381.2,215.5 376.4,216.6 371.5,217.4C366.6,218.1 361.6,218.5 356.7,218.5C351.8,218.5 346.8,218.1 341.9,217.4C337.0,216.6 332.2,215.5 327.5,214.0C322.8,212.5 318.2,210.6 313.8,208.4C309.4,206.2 305.1,203.6 301.2,200.8C297.2,198.0 293.4,194.8 289.9,191.3C286.4,187.9 283.1,184.2 280.2,180.3C277.4,176.4 274.7,172.2 272.5,167.9C270.3,163.6 268.3,159.0 266.8,154.4C265.3,149.8 264.1,145.1 263.4,140.3C262.6,135.5 262.2,130.6 262.2,125.8C262.2,121.0 262.6,116.1 263.4,111.3C264.1,106.5 265.3,101.8 266.8,97.2C268.3,92.6 270.3,88.0 272.5,83.7C274.7,79.4 277.4,75.2 280.2,71.3C283.1,67.4 286.4,63.7 289.9,60.3C293.4,56.8 297.2,53.6 301.2,50.8C305.1,48.0 309.4,45.4 313.8,43.2C318.2,41.0 322.8,39.1 327.5,37.6C332.2,36.1 337.0,35.0 341.9,34.2C346.8,33.5 351.8,33.1 356.7,33.1C361.6,33.1 366.6,33.5 371.5,34.2C376.4,35.0 381.2,36.1 385.9,37.6C390.6,39.1 395.2,41.0 399.6,43.2C404.0,45.4 408.3,48.0 412.2,50.8C416.2,53.6 420.0,56.8 423.5,60.3C427.0,63.7 430.3,67.4 433.2,71.3C436.0,75.2 438.7,79.4 440.9,83.7C443.1,88.0 445.1,92.6 446.6,97.2C448.1,101.8 449.3,106.5 450.0,111.3C450.8,116.1 451.2,121.0 451.2,125.8Z" fill="#0000FF" stroke="#111" stroke-width="0.8"/>
<path d="M441.9,126.3C441.9,130.7 441.5,135.1 440.8,139.4C440.2,143.8 439.1,148.1 437.7,152.3C436.4,156.4 434.6,160.5 432.6,164.4C430.6,168.3 428.2,172.1 425.6,175.7C423.0,179.2 420.1,182.6 416.9,185.7C413.8,188.8 410.3,191.7 406.7,194.3C403.1,196.8 399.3,199.2 395.3,201.1C391.4,203.1 387.2,204.8 383.0,206.2C378.7,207.5 374.3,208.6 369.9,209.3C365.6,210.0 361.0,210.3 356.6,210.3C352.2,210.3 347.6,210.0 343.3,209.3C338.9,208.6 334.5,207.5 330.2,206.2C326.0,204.8 321.8,203.1 317.9,201.1C313.9,199.2 310.1,196.8 306.5,194.3C302.9,191.7 299.4,188.8 296.3,185.7C293.1,182.6 290.2,179.2 287.6,175.7C285.0,172.1 282.6,168.3 280.6,164.4C278.6,160.5 276.8,156.4 275.5,152.3C274.1,148.1 273.0,143.8 272.4,139.4C271.7,135.1 271.3,130.7 271.3,126.3C271.3,121.9 271.7,117.5 272.4,113.2C273.0,108.8 274.1,104.5 275.5,100.3C276.8,96.2 278.6,92.1 280.6,88.2C282.6,84.3 285.0,80.5 287.6,76.9C290.2,73.4 293.1,70.0 296.3,66.9C299.4,63.8 302.9,60.9 306.5,58.3C310.1,55.8 313.9,53.4 317.9,51.5C321.8,49.5 326.0,47.8 330.2,46.4C334.5,45.1 338.9,44.0 343.3,43.3C347.6,42.6 352.2,42.3 356.6,42.3C361.0,42.3 365.6,42.6 369.9,43.3C374.3,44.0 378.7,45.1 383.0,46.4C387.2,47.8 391.4,49.5 395.3,51.5C399.3,53.4 403.1,55.8 406.7,58.3C410.3,60.9 413.8,63.8 416.9,66.9C420.1,70.0 423.0,73.4 425.6,76.9C428.2,80.5 430.6,84.3 432.6,88.2C434.6,92.1 436.4,96.2 437.7,100.3C439.1,104.5 440.2,108.8 440.8,113.2C441.5,117.5 441.9,121.9 441.9,126.3Z" fill="#0063FF" stroke="#111" stroke-width="0.8"/>
<path d="M435.6,125.1C435.6,129.0 435.3,133.0 434.6,136.9C434.0,140.8 433.1,144.7 431.8,148.5C430.6,152.2 429.0,155.9 427.2,159.5C425.3,163.0 423.2,166.4 420.8,169.6C418.5,172.8 415.8,175.8 413.0,178.6C410.1,181.4 407.0,184.0 403.7,186.3C400.5,188.7 397.0,190.8 393.4,192.5C389.8,194.3 386.0,195.9 382.2,197.1C378.4,198.3 374.4,199.3 370.4,199.9C366.4,200.5 362.3,200.8 358.3,200.8C354.3,200.8 350.2,200.5 346.2,199.9C342.2,199.3 338.2,198.3 334.4,197.1C330.6,195.9 326.8,194.3 323.2,192.5C319.6,190.8 316.1,188.7 312.9,186.3C309.6,184.0 306.5,181.4 303.6,178.6C300.8,175.8 298.1,172.8 295.8,169.6C293.4,166.4 291.3,163.0 289.4,159.5C287.6,155.9 286.0,152.2 284.8,148.5C283.5,144.7 282.6,140.8 282.0,136.9C281.3,133.0 281.0,129.0 281.0,125.1C281.0,121.2 281.3,117.2 282.0,113.3C282.6,109.4 283.5,105.5 284.8,101.7C286.0,98.0 287.6,94.3 289.4,90.7C291.3,87.2 293.4,83.8 295.8,80.6C298.1,77.4 300.8,74.4 303.6,71.6C306.5,68.8 309.6,66.2 312.9,63.9C316.1,61.5 319.6,59.4 323.2,57.7C326.8,55.9 330.6,54.3 334.4,53.1C338.2,51.9 342.2,50.9 346.2,50.3C350.2,49.7 354.3,49.4 358.3,49.4C362.3,49.4 366.4,49.7 370.4,50.3C374.4,50.9 378.4,51.9 382.2,53.1C386.0,54.3 389.8,55.9 393.4,57.7C397.0,59.4 400.5,61.5 403.7,63.9C407.0,66.2 410.1,68.8 413.0,71.6C415.8,74.4 418.5,77.4 420.8,80.6C423.2,83.8 425.3,87.2 427.2,90.7C429.0,94.3 430.6,98.0 431.8,101.7C433.1,105.5 434.0,109.4 434.6,113.3C435.3,117.2 435.6,121.2 435.6,125.1Z" fill="#00D4FF" stroke="#111" stroke-width="0.8"/>
<path d="M425.7,124.0C425.8,127.0 425.6,130.0 425.4,133.0C425.2,136.0 424.8,139.0 424.2,142.0C423.6,145.0 422.8,148.0 421.7,150.8C420.7,153.7 419.4,156.5 417.9,159.2C416.4,161.8 414.6,164.4 412.7,166.7C410.7,169.0 408.4,171.1 406.1,173.1C403.7,175.0 401.3,176.8 398.7,178.4C396.2,180.0 393.6,181.5 390.9,182.7C388.2,183.9 385.3,184.9 382.5,185.5C379.6,186.1 376.6,186.4 373.7,186.5C370.9,186.5 367.9,186.2 365.2,185.9C362.4,185.6 359.7,185.1 357.0,184.8C354.3,184.4 351.7,184.1 349.1,183.7C346.5,183.3 343.9,182.9 341.4,182.3C338.8,181.7 336.3,180.9 333.8,180.0C331.3,179.1 328.9,178.1 326.5,176.9C324.1,175.7 321.7,174.4 319.5,172.9C317.2,171.4 315.0,169.8 313.0,168.0C310.9,166.2 309.0,164.2 307.4,162.1C305.7,159.9 304.3,157.6 303.1,155.1C302.0,152.6 301.3,149.9 300.6,147.3C300.0,144.7 299.6,142.1 299.3,139.5C298.9,136.9 298.7,134.3 298.6,131.7C298.5,129.1 298.5,126.6 298.6,124.0C298.7,121.4 298.8,118.9 299.1,116.4C299.4,113.8 299.7,111.3 300.2,108.8C300.7,106.3 301.4,103.8 302.2,101.3C303.0,98.8 304.0,96.4 305.1,94.0C306.2,91.7 307.5,89.3 309.0,87.1C310.4,85.0 312.1,82.8 313.9,80.9C315.8,79.1 317.9,77.3 320.0,75.8C322.2,74.4 324.6,73.1 327.1,72.2C329.5,71.2 332.1,70.7 334.6,70.0C337.1,69.3 339.6,68.9 342.0,68.1C344.4,67.2 346.7,66.0 349.2,65.0C351.7,63.9 354.3,62.6 357.0,61.8C359.7,61.1 362.6,60.5 365.4,60.3C368.2,60.2 371.1,60.4 374.0,60.7C376.8,61.1 379.6,61.8 382.5,62.4C385.4,63.0 388.3,63.7 391.4,64.5C394.4,65.3 397.7,65.9 400.7,67.1C403.6,68.4 406.7,69.9 409.1,71.9C411.4,74.0 413.4,76.8 414.9,79.6C416.5,82.3 417.3,85.6 418.2,88.6C419.2,91.7 419.7,94.7 420.5,97.7C421.2,100.7 422.1,103.5 422.8,106.4C423.5,109.3 424.4,112.1 424.8,115.1C425.3,118.0 425.6,121.0 425.7,124.0Z" fill="#4DFFA9" stroke="#111" stroke-width="0.8"/>
<path d="M411.1,124.0C411.2,126.4 411.2,128.7 411.3,131.1C411.3,133.6 411.5,136.1 411.4,138.6C411.3,141.1 411.4,143.8 410.8,146.3C410.2,148.7 409.1,151.2 407.8,153.3C406.4,155.4 404.4,157.2 402.5,158.9C400.6,160.6 398.5,162.1 396.4,163.4C394.2,164.6 391.9,165.7 389.7,166.6C387.4,167.5 385.2,168.3 382.9,168.9C380.7,169.5 378.4,169.9 376.2,170.2C373.9,170.6 371.7,170.8 369.6,171.0C367.4,171.2 365.3,171.4 363.2,171.4C361.1,171.5 359.1,171.4 357.0,171.4C354.9,171.4 352.9,171.4 350.7,171.6C348.6,171.8 346.3,172.5 344.0,172.5C341.7,172.6 339.3,172.5 337.1,172.0C334.9,171.4 332.8,170.4 330.9,169.2C328.9,168.1 327.1,166.7 325.5,165.1C323.8,163.5 322.4,161.7 321.2,159.8C320.0,157.9 319.1,155.8 318.2,153.8C317.2,151.8 316.2,150.0 315.4,148.0C314.7,146.0 314.1,144.0 313.6,142.0C313.1,140.0 312.9,137.9 312.6,135.9C312.2,133.9 311.8,132.0 311.4,130.0C311.1,128.0 310.6,126.0 310.3,124.0C310.0,122.0 309.6,119.9 309.4,117.7C309.3,115.6 309.2,113.4 309.3,111.2C309.4,109.0 309.5,106.7 310.1,104.6C310.6,102.4 311.3,100.2 312.6,98.4C313.9,96.6 315.8,95.1 317.8,94.0C319.9,92.8 322.5,92.4 324.7,91.7C326.9,91.1 329.1,90.7 331.0,90.2C333.0,89.6 334.7,89.1 336.3,88.2C338.0,87.3 339.3,86.3 340.8,84.9C342.3,83.5 343.5,81.1 345.1,79.7C346.8,78.2 348.7,76.8 350.7,76.2C352.7,75.5 354.9,75.8 357.0,75.7C359.1,75.7 361.2,75.9 363.3,76.0C365.4,76.2 367.6,76.2 369.7,76.5C371.9,76.8 374.1,77.1 376.2,77.7C378.3,78.3 380.4,79.0 382.4,80.0C384.4,81.0 386.3,82.2 388.0,83.6C389.7,85.0 391.2,86.6 392.8,88.2C394.4,89.7 395.9,91.3 397.6,92.8C399.4,94.4 401.5,95.7 403.1,97.4C404.7,99.1 406.3,101.0 407.4,103.1C408.5,105.2 409.1,107.6 409.6,109.9C410.2,112.2 410.4,114.6 410.7,116.9C410.9,119.3 411.0,121.6 411.1,124.0Z" fill="#A9FF4D" stroke="#111" stroke-width="0.8"/>
<path d="M310.0,100.0C309.8,98.3 310.7,94.7 312.0,92.0C313.3,89.3 315.3,86.4 318.0,84.0C320.7,81.6 324.7,79.0 328.0,77.5C331.3,76.0 335.1,75.3 338.0,75.0C340.9,74.7 344.2,74.8 345.5,75.5C346.8,76.2 345.6,77.8 345.8,79.0C346.0,80.2 344.8,81.8 346.5,82.5C348.2,83.2 353.1,83.1 356.0,83.3C358.9,83.5 362.2,83.1 364.0,83.8C365.8,84.5 366.5,86.2 366.5,87.5C366.5,88.8 364.8,90.2 364.0,91.5C363.2,92.8 365.7,94.4 362.0,95.0C358.3,95.6 345.6,95.7 342.0,95.0C338.4,94.3 342.4,91.8 340.7,90.8C339.0,89.8 335.1,88.8 332.0,89.3C328.9,89.8 325.2,91.6 322.0,93.8C318.8,96.0 315.0,101.3 313.0,102.3C311.0,103.3 310.2,101.7 310.0,100.0Z" fill="#4DFFA9"/>
<path d="M313.0,102.3C314.5,100.9 318.8,96.0 322.0,93.8C325.2,91.6 328.9,89.8 332.0,89.3C335.1,88.8 339.0,90.2 340.7,90.8C342.4,91.4 341.8,92.6 342.0,93.0" fill="none" stroke="#111" stroke-width="0.8"/>
<path d="M364.0,91.5C364.4,90.8 366.5,88.8 366.5,87.5C366.5,86.2 365.8,84.5 364.0,83.8C362.2,83.1 358.9,83.5 356.0,83.3C353.1,83.1 348.2,83.2 346.5,82.5C344.8,81.8 346.0,80.0 345.8,79.0C345.6,78.0 345.6,76.9 345.5,76.5" fill="none" stroke="#111" stroke-width="0.8"/>
<path d="M393.5,124.0C393.9,125.6 394.1,127.2 394.3,128.9C394.4,130.6 394.5,132.3 394.4,134.0C394.3,135.7 394.1,137.5 393.7,139.2C393.3,140.9 392.7,142.6 392.0,144.2C391.2,145.8 390.2,147.3 389.2,148.7C388.2,150.1 387.0,151.5 385.7,152.7C384.5,154.0 383.1,155.1 381.6,156.1C380.2,157.1 378.6,158.0 377.0,158.7C375.4,159.4 373.8,160.0 372.1,160.5C370.4,160.9 368.7,161.3 367.1,161.5C365.4,161.8 363.7,162.0 362.0,162.0C360.3,162.1 358.7,162.1 357.0,162.0C355.3,161.9 353.7,161.7 352.1,161.5C350.4,161.2 348.8,160.9 347.2,160.4C345.7,160.0 344.1,159.5 342.5,158.9C341.0,158.3 339.5,157.6 338.1,156.8C336.7,155.9 335.3,155.0 334.0,153.9C332.8,152.9 331.6,151.7 330.6,150.4C329.5,149.2 328.6,147.8 327.8,146.4C327.0,145.0 326.4,143.5 325.7,142.0C325.1,140.6 324.6,139.1 324.1,137.6C323.6,136.2 323.1,134.7 322.7,133.2C322.2,131.7 321.7,130.2 321.2,128.7C320.7,127.2 320.1,125.6 319.7,124.0C319.3,122.4 318.8,120.7 318.7,119.0C318.5,117.3 318.6,115.5 318.8,113.8C319.1,112.1 319.6,110.4 320.1,108.7C320.7,107.1 321.4,105.4 322.1,103.9C322.9,102.3 323.7,100.7 324.7,99.3C325.8,97.8 327.0,96.4 328.4,95.4C329.7,94.3 331.4,93.4 333.0,92.8C334.7,92.1 336.5,90.8 338.2,91.5C339.9,92.1 341.6,95.7 343.3,96.5C344.9,97.3 346.5,96.5 348.0,96.5C349.6,96.5 351.1,96.5 352.6,96.5C354.1,96.5 355.5,96.5 357.0,96.5C358.5,96.5 359.9,97.4 361.4,96.5C362.8,95.6 364.3,92.1 365.8,91.3C367.2,90.6 368.8,91.7 370.2,92.0C371.7,92.4 373.3,92.8 374.7,93.4C376.1,94.0 377.4,94.9 378.6,95.8C379.9,96.7 380.9,97.9 382.0,99.0C383.0,100.2 384.0,101.4 384.8,102.6C385.7,103.9 386.5,105.2 387.3,106.5C388.0,107.9 388.7,109.2 389.3,110.6C389.9,112.0 390.5,113.4 391.0,114.9C391.5,116.3 392.0,117.8 392.4,119.3C392.8,120.9 393.2,122.4 393.5,124.0Z" fill="#FFE600" stroke="#111" stroke-width="0.8"/>
<path d="M341.9,93.0C344.3,91.8 347.8,93.3 351.0,93.5C354.2,93.7 358.2,93.3 360.9,94.0C363.6,94.7 365.5,95.7 367.0,97.5C368.5,99.3 368.8,102.6 370.0,105.0C371.2,107.4 372.5,109.9 374.0,112.0C375.5,114.0 377.5,115.3 379.1,117.3C380.6,119.3 382.3,121.5 383.2,124.0C384.1,126.5 384.8,130.0 384.4,132.4C384.0,134.8 382.7,137.3 380.6,138.7C378.4,140.0 375.1,139.9 371.6,140.7C368.0,141.5 363.5,142.9 359.3,143.3C355.1,143.7 349.4,142.8 346.3,142.8C343.2,142.8 342.2,143.0 340.7,143.4C339.2,143.8 338.4,145.6 337.3,145.2C336.3,144.8 335.3,142.7 334.3,140.8C333.3,138.9 331.8,136.4 331.2,133.9C330.5,131.4 330.1,128.4 330.3,125.7C330.5,123.0 331.9,120.3 332.5,117.6C333.1,114.8 333.2,112.1 333.9,109.2C334.6,106.3 335.3,103.1 336.6,100.4C338.0,97.7 339.5,94.2 341.9,93.0Z" fill="#FF7D00" stroke="#111" stroke-width="0.8"/>
<path d="M360.0,92.0C360.0,92.3 359.8,92.7 359.4,93.0C359.1,93.3 358.5,93.6 357.8,93.8C357.1,94.1 356.3,94.3 355.4,94.4C354.5,94.5 353.5,94.6 352.5,94.6C351.5,94.6 350.5,94.5 349.6,94.4C348.7,94.3 347.9,94.1 347.2,93.8C346.5,93.6 345.9,93.3 345.6,93.0C345.2,92.7 345.0,92.3 345.0,92.0C345.0,91.7 345.2,91.3 345.6,91.0C345.9,90.7 346.5,90.4 347.2,90.2C347.9,89.9 348.7,89.7 349.6,89.6C350.5,89.5 351.5,89.4 352.5,89.4C353.5,89.4 354.5,89.5 355.4,89.6C356.3,89.7 357.1,89.9 357.8,90.2C358.5,90.4 359.1,90.7 359.4,91.0C359.8,91.3 360.0,91.7 360.0,92.0Z" fill="#A9FF4D" stroke="#111" stroke-width="0.8"/>
<path d="M361.8,96.3C361.8,96.7 361.6,97.1 361.3,97.4C361.0,97.8 360.5,98.1 359.9,98.4C359.3,98.7 358.6,99.0 357.8,99.2C356.9,99.4 356.0,99.6 355.0,99.7C354.1,99.8 353.0,99.9 352.0,99.9C351.0,99.9 349.9,99.8 349.0,99.7C348.0,99.6 347.1,99.4 346.2,99.2C345.4,99.0 344.7,98.7 344.1,98.4C343.5,98.1 343.0,97.8 342.7,97.4C342.4,97.1 342.2,96.7 342.2,96.3C342.2,95.9 342.4,95.5 342.7,95.2C343.0,94.8 343.5,94.5 344.1,94.2C344.7,93.9 345.4,93.6 346.2,93.4C347.1,93.2 348.0,93.0 349.0,92.9C349.9,92.8 351.0,92.7 352.0,92.7C353.0,92.7 354.1,92.8 355.0,92.9C356.0,93.0 356.9,93.2 357.8,93.4C358.6,93.6 359.3,93.9 359.9,94.2C360.5,94.5 361.0,94.8 361.3,95.2C361.6,95.5 361.8,95.9 361.8,96.3Z" fill="#FF1400" stroke="#111" stroke-width="0.8"/>
<g clip-path="url(#lTR)"><g opacity="0.999">
<rect x="247.3" y="6.3" width="219.5" height="219.7" fill="#000080"/>
<path d="M451.2,125.8C451.2,130.6 450.8,135.5 450.0,140.3C449.3,145.1 448.1,149.8 446.6,154.4C445.1,159.0 443.1,163.6 440.9,167.9C438.7,172.2 436.0,176.4 433.2,180.3C430.3,184.2 427.0,187.9 423.5,191.3C420.0,194.8 416.2,198.0 412.2,200.8C408.3,203.6 404.0,206.2 399.6,208.4C395.2,210.6 390.6,212.5 385.9,214.0C381.2,215.5 376.4,216.6 371.5,217.4C366.6,218.1 361.6,218.5 356.7,218.5C351.8,218.5 346.8,218.1 341.9,217.4C337.0,216.6 332.2,215.5 327.5,214.0C322.8,212.5 318.2,210.6 313.8,208.4C309.4,206.2 305.1,203.6 301.2,200.8C297.2,198.0 293.4,194.8 289.9,191.3C286.4,187.9 283.1,184.2 280.2,180.3C277.4,176.4 274.7,172.2 272.5,167.9C270.3,163.6 268.3,159.0 266.8,154.4C265.3,149.8 264.1,145.1 263.4,140.3C262.6,135.5 262.2,130.6 262.2,125.8C262.2,121.0 262.6,116.1 263.4,111.3C264.1,106.5 265.3,101.8 266.8,97.2C268.3,92.6 270.3,88.0 272.5,83.7C274.7,79.4 277.4,75.2 280.2,71.3C283.1,67.4 286.4,63.7 289.9,60.3C293.4,56.8 297.2,53.6 301.2,50.8C305.1,48.0 309.4,45.4 313.8,43.2C318.2,41.0 322.8,39.1 327.5,37.6C332.2,36.1 337.0,35.0 341.9,34.2C346.8,33.5 351.8,33.1 356.7,33.1C361.6,33.1 366.6,33.5 371.5,34.2C376.4,35.0 381.2,36.1 385.9,37.6C390.6,39.1 395.2,41.0 399.6,43.2C404.0,45.4 408.3,48.0 412.2,50.8C416.2,53.6 420.0,56.8 423.5,60.3C427.0,63.7 430.3,67.4 433.2,71.3C436.0,75.2 438.7,79.4 440.9,83.7C443.1,88.0 445.1,92.6 446.6,97.2C448.1,101.8 449.3,106.5 450.0,111.3C450.8,116.1 451.2,121.0 451.2,125.8Z" fill="#0000FF"/>
<path d="M441.9,126.3C441.9,130.7 441.5,135.1 440.8,139.4C440.2,143.8 439.1,148.1 437.7,152.3C436.4,156.4 434.6,160.5 432.6,164.4C430.6,168.3 428.2,172.1 425.6,175.7C423.0,179.2 420.1,182.6 416.9,185.7C413.8,188.8 410.3,191.7 406.7,194.3C403.1,196.8 399.3,199.2 395.3,201.1C391.4,203.1 387.2,204.8 383.0,206.2C378.7,207.5 374.3,208.6 369.9,209.3C365.6,210.0 361.0,210.3 356.6,210.3C352.2,210.3 347.6,210.0 343.3,209.3C338.9,208.6 334.5,207.5 330.2,206.2C326.0,204.8 321.8,203.1 317.9,201.1C313.9,199.2 310.1,196.8 306.5,194.3C302.9,191.7 299.4,188.8 296.3,185.7C293.1,182.6 290.2,179.2 287.6,175.7C285.0,172.1 282.6,168.3 280.6,164.4C278.6,160.5 276.8,156.4 275.5,152.3C274.1,148.1 273.0,143.8 272.4,139.4C271.7,135.1 271.3,130.7 271.3,126.3C271.3,121.9 271.7,117.5 272.4,113.2C273.0,108.8 274.1,104.5 275.5,100.3C276.8,96.2 278.6,92.1 280.6,88.2C282.6,84.3 285.0,80.5 287.6,76.9C290.2,73.4 293.1,70.0 296.3,66.9C299.4,63.8 302.9,60.9 306.5,58.3C310.1,55.8 313.9,53.4 317.9,51.5C321.8,49.5 326.0,47.8 330.2,46.4C334.5,45.1 338.9,44.0 343.3,43.3C347.6,42.6 352.2,42.3 356.6,42.3C361.0,42.3 365.6,42.6 369.9,43.3C374.3,44.0 378.7,45.1 383.0,46.4C387.2,47.8 391.4,49.5 395.3,51.5C399.3,53.4 403.1,55.8 406.7,58.3C410.3,60.9 413.8,63.8 416.9,66.9C420.1,70.0 423.0,73.4 425.6,76.9C428.2,80.5 430.6,84.3 432.6,88.2C434.6,92.1 436.4,96.2 437.7,100.3C439.1,104.5 440.2,108.8 440.8,113.2C441.5,117.5 441.9,121.9 441.9,126.3Z" fill="#0063FF"/>
<path d="M435.6,125.1C435.6,129.0 435.3,133.0 434.6,136.9C434.0,140.8 433.1,144.7 431.8,148.5C430.6,152.2 429.0,155.9 427.2,159.5C425.3,163.0 423.2,166.4 420.8,169.6C418.5,172.8 415.8,175.8 413.0,178.6C410.1,181.4 407.0,184.0 403.7,186.3C400.5,188.7 397.0,190.8 393.4,192.5C389.8,194.3 386.0,195.9 382.2,197.1C378.4,198.3 374.4,199.3 370.4,199.9C366.4,200.5 362.3,200.8 358.3,200.8C354.3,200.8 350.2,200.5 346.2,199.9C342.2,199.3 338.2,198.3 334.4,197.1C330.6,195.9 326.8,194.3 323.2,192.5C319.6,190.8 316.1,188.7 312.9,186.3C309.6,184.0 306.5,181.4 303.6,178.6C300.8,175.8 298.1,172.8 295.8,169.6C293.4,166.4 291.3,163.0 289.4,159.5C287.6,155.9 286.0,152.2 284.8,148.5C283.5,144.7 282.6,140.8 282.0,136.9C281.3,133.0 281.0,129.0 281.0,125.1C281.0,121.2 281.3,117.2 282.0,113.3C282.6,109.4 283.5,105.5 284.8,101.7C286.0,98.0 287.6,94.3 289.4,90.7C291.3,87.2 293.4,83.8 295.8,80.6C298.1,77.4 300.8,74.4 303.6,71.6C306.5,68.8 309.6,66.2 312.9,63.9C316.1,61.5 319.6,59.4 323.2,57.7C326.8,55.9 330.6,54.3 334.4,53.1C338.2,51.9 342.2,50.9 346.2,50.3C350.2,49.7 354.3,49.4 358.3,49.4C362.3,49.4 366.4,49.7 370.4,50.3C374.4,50.9 378.4,51.9 382.2,53.1C386.0,54.3 389.8,55.9 393.4,57.7C397.0,59.4 400.5,61.5 403.7,63.9C407.0,66.2 410.1,68.8 413.0,71.6C415.8,74.4 418.5,77.4 420.8,80.6C423.2,83.8 425.3,87.2 427.2,90.7C429.0,94.3 430.6,98.0 431.8,101.7C433.1,105.5 434.0,109.4 434.6,113.3C435.3,117.2 435.6,121.2 435.6,125.1Z" fill="#00D4FF"/>
<path d="M425.7,124.0C425.8,127.0 425.6,130.0 425.4,133.0C425.2,136.0 424.8,139.0 424.2,142.0C423.6,145.0 422.8,148.0 421.7,150.8C420.7,153.7 419.4,156.5 417.9,159.2C416.4,161.8 414.6,164.4 412.7,166.7C410.7,169.0 408.4,171.1 406.1,173.1C403.7,175.0 401.3,176.8 398.7,178.4C396.2,180.0 393.6,181.5 390.9,182.7C388.2,183.9 385.3,184.9 382.5,185.5C379.6,186.1 376.6,186.4 373.7,186.5C370.9,186.5 367.9,186.2 365.2,185.9C362.4,185.6 359.7,185.1 357.0,184.8C354.3,184.4 351.7,184.1 349.1,183.7C346.5,183.3 343.9,182.9 341.4,182.3C338.8,181.7 336.3,180.9 333.8,180.0C331.3,179.1 328.9,178.1 326.5,176.9C324.1,175.7 321.7,174.4 319.5,172.9C317.2,171.4 315.0,169.8 313.0,168.0C310.9,166.2 309.0,164.2 307.4,162.1C305.7,159.9 304.3,157.6 303.1,155.1C302.0,152.6 301.3,149.9 300.6,147.3C300.0,144.7 299.6,142.1 299.3,139.5C298.9,136.9 298.7,134.3 298.6,131.7C298.5,129.1 298.5,126.6 298.6,124.0C298.7,121.4 298.8,118.9 299.1,116.4C299.4,113.8 299.7,111.3 300.2,108.8C300.7,106.3 301.4,103.8 302.2,101.3C303.0,98.8 304.0,96.4 305.1,94.0C306.2,91.7 307.5,89.3 309.0,87.1C310.4,85.0 312.1,82.8 313.9,80.9C315.8,79.1 317.9,77.3 320.0,75.8C322.2,74.4 324.6,73.1 327.1,72.2C329.5,71.2 332.1,70.7 334.6,70.0C337.1,69.3 339.6,68.9 342.0,68.1C344.4,67.2 346.7,66.0 349.2,65.0C351.7,63.9 354.3,62.6 357.0,61.8C359.7,61.1 362.6,60.5 365.4,60.3C368.2,60.2 371.1,60.4 374.0,60.7C376.8,61.1 379.6,61.8 382.5,62.4C385.4,63.0 388.3,63.7 391.4,64.5C394.4,65.3 397.7,65.9 400.7,67.1C403.6,68.4 406.7,69.9 409.1,71.9C411.4,74.0 413.4,76.8 414.9,79.6C416.5,82.3 417.3,85.6 418.2,88.6C419.2,91.7 419.7,94.7 420.5,97.7C421.2,100.7 422.1,103.5 422.8,106.4C423.5,109.3 424.4,112.1 424.8,115.1C425.3,118.0 425.6,121.0 425.7,124.0Z" fill="#4DFFA9"/>
<path d="M411.1,124.0C411.2,126.4 411.2,128.7 411.3,131.1C411.3,133.6 411.5,136.1 411.4,138.6C411.3,141.1 411.4,143.8 410.8,146.3C410.2,148.7 409.1,151.2 407.8,153.3C406.4,155.4 404.4,157.2 402.5,158.9C400.6,160.6 398.5,162.1 396.4,163.4C394.2,164.6 391.9,165.7 389.7,166.6C387.4,167.5 385.2,168.3 382.9,168.9C380.7,169.5 378.4,169.9 376.2,170.2C373.9,170.6 371.7,170.8 369.6,171.0C367.4,171.2 365.3,171.4 363.2,171.4C361.1,171.5 359.1,171.4 357.0,171.4C354.9,171.4 352.9,171.4 350.7,171.6C348.6,171.8 346.3,172.5 344.0,172.5C341.7,172.6 339.3,172.5 337.1,172.0C334.9,171.4 332.8,170.4 330.9,169.2C328.9,168.1 327.1,166.7 325.5,165.1C323.8,163.5 322.4,161.7 321.2,159.8C320.0,157.9 319.1,155.8 318.2,153.8C317.2,151.8 316.2,150.0 315.4,148.0C314.7,146.0 314.1,144.0 313.6,142.0C313.1,140.0 312.9,137.9 312.6,135.9C312.2,133.9 311.8,132.0 311.4,130.0C311.1,128.0 310.6,126.0 310.3,124.0C310.0,122.0 309.6,119.9 309.4,117.7C309.3,115.6 309.2,113.4 309.3,111.2C309.4,109.0 309.5,106.7 310.1,104.6C310.6,102.4 311.3,100.2 312.6,98.4C313.9,96.6 315.8,95.1 317.8,94.0C319.9,92.8 322.5,92.4 324.7,91.7C326.9,91.1 329.1,90.7 331.0,90.2C333.0,89.6 334.7,89.1 336.3,88.2C338.0,87.3 339.3,86.3 340.8,84.9C342.3,83.5 343.5,81.1 345.1,79.7C346.8,78.2 348.7,76.8 350.7,76.2C352.7,75.5 354.9,75.8 357.0,75.7C359.1,75.7 361.2,75.9 363.3,76.0C365.4,76.2 367.6,76.2 369.7,76.5C371.9,76.8 374.1,77.1 376.2,77.7C378.3,78.3 380.4,79.0 382.4,80.0C384.4,81.0 386.3,82.2 388.0,83.6C389.7,85.0 391.2,86.6 392.8,88.2C394.4,89.7 395.9,91.3 397.6,92.8C399.4,94.4 401.5,95.7 403.1,97.4C404.7,99.1 406.3,101.0 407.4,103.1C408.5,105.2 409.1,107.6 409.6,109.9C410.2,112.2 410.4,114.6 410.7,116.9C410.9,119.3 411.0,121.6 411.1,124.0Z" fill="#A9FF4D"/>
<path d="M310.0,100.0C309.8,98.3 310.7,94.7 312.0,92.0C313.3,89.3 315.3,86.4 318.0,84.0C320.7,81.6 324.7,79.0 328.0,77.5C331.3,76.0 335.1,75.3 338.0,75.0C340.9,74.7 344.2,74.8 345.5,75.5C346.8,76.2 345.6,77.8 345.8,79.0C346.0,80.2 344.8,81.8 346.5,82.5C348.2,83.2 353.1,83.1 356.0,83.3C358.9,83.5 362.2,83.1 364.0,83.8C365.8,84.5 366.5,86.2 366.5,87.5C366.5,88.8 364.8,90.2 364.0,91.5C363.2,92.8 365.7,94.4 362.0,95.0C358.3,95.6 345.6,95.7 342.0,95.0C338.4,94.3 342.4,91.8 340.7,90.8C339.0,89.8 335.1,88.8 332.0,89.3C328.9,89.8 325.2,91.6 322.0,93.8C318.8,96.0 315.0,101.3 313.0,102.3C311.0,103.3 310.2,101.7 310.0,100.0Z" fill="#4DFFA9"/>
<path d="M393.5,124.0C393.9,125.6 394.1,127.2 394.3,128.9C394.4,130.6 394.5,132.3 394.4,134.0C394.3,135.7 394.1,137.5 393.7,139.2C393.3,140.9 392.7,142.6 392.0,144.2C391.2,145.8 390.2,147.3 389.2,148.7C388.2,150.1 387.0,151.5 385.7,152.7C384.5,154.0 383.1,155.1 381.6,156.1C380.2,157.1 378.6,158.0 377.0,158.7C375.4,159.4 373.8,160.0 372.1,160.5C370.4,160.9 368.7,161.3 367.1,161.5C365.4,161.8 363.7,162.0 362.0,162.0C360.3,162.1 358.7,162.1 357.0,162.0C355.3,161.9 353.7,161.7 352.1,161.5C350.4,161.2 348.8,160.9 347.2,160.4C345.7,160.0 344.1,159.5 342.5,158.9C341.0,158.3 339.5,157.6 338.1,156.8C336.7,155.9 335.3,155.0 334.0,153.9C332.8,152.9 331.6,151.7 330.6,150.4C329.5,149.2 328.6,147.8 327.8,146.4C327.0,145.0 326.4,143.5 325.7,142.0C325.1,140.6 324.6,139.1 324.1,137.6C323.6,136.2 323.1,134.7 322.7,133.2C322.2,131.7 321.7,130.2 321.2,128.7C320.7,127.2 320.1,125.6 319.7,124.0C319.3,122.4 318.8,120.7 318.7,119.0C318.5,117.3 318.6,115.5 318.8,113.8C319.1,112.1 319.6,110.4 320.1,108.7C320.7,107.1 321.4,105.4 322.1,103.9C322.9,102.3 323.7,100.7 324.7,99.3C325.8,97.8 327.0,96.4 328.4,95.4C329.7,94.3 331.4,93.4 333.0,92.8C334.7,92.1 336.5,90.8 338.2,91.5C339.9,92.1 341.6,95.7 343.3,96.5C344.9,97.3 346.5,96.5 348.0,96.5C349.6,96.5 351.1,96.5 352.6,96.5C354.1,96.5 355.5,96.5 357.0,96.5C358.5,96.5 359.9,97.4 361.4,96.5C362.8,95.6 364.3,92.1 365.8,91.3C367.2,90.6 368.8,91.7 370.2,92.0C371.7,92.4 373.3,92.8 374.7,93.4C376.1,94.0 377.4,94.9 378.6,95.8C379.9,96.7 380.9,97.9 382.0,99.0C383.0,100.2 384.0,101.4 384.8,102.6C385.7,103.9 386.5,105.2 387.3,106.5C388.0,107.9 388.7,109.2 389.3,110.6C389.9,112.0 390.5,113.4 391.0,114.9C391.5,116.3 392.0,117.8 392.4,119.3C392.8,120.9 393.2,122.4 393.5,124.0Z" fill="#FFE600"/>
<path d="M341.9,93.0C344.3,91.8 347.8,93.3 351.0,93.5C354.2,93.7 358.2,93.3 360.9,94.0C363.6,94.7 365.5,95.7 367.0,97.5C368.5,99.3 368.8,102.6 370.0,105.0C371.2,107.4 372.5,109.9 374.0,112.0C375.5,114.0 377.5,115.3 379.1,117.3C380.6,119.3 382.3,121.5 383.2,124.0C384.1,126.5 384.8,130.0 384.4,132.4C384.0,134.8 382.7,137.3 380.6,138.7C378.4,140.0 375.1,139.9 371.6,140.7C368.0,141.5 363.5,142.9 359.3,143.3C355.1,143.7 349.4,142.8 346.3,142.8C343.2,142.8 342.2,143.0 340.7,143.4C339.2,143.8 338.4,145.6 337.3,145.2C336.3,144.8 335.3,142.7 334.3,140.8C333.3,138.9 331.8,136.4 331.2,133.9C330.5,131.4 330.1,128.4 330.3,125.7C330.5,123.0 331.9,120.3 332.5,117.6C333.1,114.8 333.2,112.1 333.9,109.2C334.6,106.3 335.3,103.1 336.6,100.4C338.0,97.7 339.5,94.2 341.9,93.0Z" fill="#FF7D00"/>
<path d="M360.0,92.0C360.0,92.3 359.8,92.7 359.4,93.0C359.1,93.3 358.5,93.6 357.8,93.8C357.1,94.1 356.3,94.3 355.4,94.4C354.5,94.5 353.5,94.6 352.5,94.6C351.5,94.6 350.5,94.5 349.6,94.4C348.7,94.3 347.9,94.1 347.2,93.8C346.5,93.6 345.9,93.3 345.6,93.0C345.2,92.7 345.0,92.3 345.0,92.0C345.0,91.7 345.2,91.3 345.6,91.0C345.9,90.7 346.5,90.4 347.2,90.2C347.9,89.9 348.7,89.7 349.6,89.6C350.5,89.5 351.5,89.4 352.5,89.4C353.5,89.4 354.5,89.5 355.4,89.6C356.3,89.7 357.1,89.9 357.8,90.2C358.5,90.4 359.1,90.7 359.4,91.0C359.8,91.3 360.0,91.7 360.0,92.0Z" fill="#A9FF4D"/>
<path d="M361.8,96.3C361.8,96.7 361.6,97.1 361.3,97.4C361.0,97.8 360.5,98.1 359.9,98.4C359.3,98.7 358.6,99.0 357.8,99.2C356.9,99.4 356.0,99.6 355.0,99.7C354.1,99.8 353.0,99.9 352.0,99.9C351.0,99.9 349.9,99.8 349.0,99.7C348.0,99.6 347.1,99.4 346.2,99.2C345.4,99.0 344.7,98.7 344.1,98.4C343.5,98.1 343.0,97.8 342.7,97.4C342.4,97.1 342.2,96.7 342.2,96.3C342.2,95.9 342.4,95.5 342.7,95.2C343.0,94.8 343.5,94.5 344.1,94.2C344.7,93.9 345.4,93.6 346.2,93.4C347.1,93.2 348.0,93.0 349.0,92.9C349.9,92.8 351.0,92.7 352.0,92.7C353.0,92.7 354.1,92.8 355.0,92.9C356.0,93.0 356.9,93.2 357.8,93.4C358.6,93.6 359.3,93.9 359.9,94.2C360.5,94.5 361.0,94.8 361.3,95.2C361.6,95.5 361.8,95.9 361.8,96.3Z" fill="#FF1400"/>
</g></g>
<circle cx="347.5" cy="18.2" r="2.6" fill="none" stroke="#000" stroke-width="0.8"/><line x1="344.5" y1="18.2" x2="350.5" y2="18.2" stroke="#111" stroke-width="1.1"/><rect x="356.1" y="16.2" width="8.2" height="4.6" fill="none" stroke="#111" stroke-width="0.8"/><rect x="412.5" y="16.2" width="8.2" height="4.6" fill="none" stroke="#111" stroke-width="0.8"/><circle cx="426.5" cy="18.2" r="2.6" fill="none" stroke="#000" stroke-width="0.8"/><line x1="423.5" y1="18.2" x2="429.5" y2="18.2" stroke="#111" stroke-width="1.1"/><line x1="410.6" y1="27.1" x2="415.1" y2="27.1" stroke="#111" stroke-width="1.1"/><line x1="427.0" y1="27.1" x2="431.5" y2="27.1" stroke="#111" stroke-width="1.1"/><line x1="410.6" y1="36.2" x2="415.1" y2="36.2" stroke="#111" stroke-width="1.1"/><line x1="427.0" y1="36.2" x2="431.5" y2="36.2" stroke="#111" stroke-width="1.1"/><circle cx="349.0" cy="74.0" r="2.2" fill="#000050" stroke="#000" stroke-width="1.0"/><rect x="355.8" y="71.6" width="8.2" height="4.6" fill="none" stroke="#333" stroke-width="0.8"/><rect x="412.8" y="71.8" width="8.2" height="4.6" fill="none" stroke="#222" stroke-width="0.8"/><circle cx="427.4" cy="74.1" r="2.8" fill="#000070" stroke="#000" stroke-width="1.0"/><line x1="345.0" y1="80.0" x2="349.5" y2="80.0" stroke="#333" stroke-width="1.1"/><line x1="358.5" y1="80.0" x2="363.0" y2="80.0" stroke="#333" stroke-width="1.1"/><circle cx="348.8" cy="124.5" r="2.8" fill="#0000d8" stroke="#000" stroke-width="1.3"/><line x1="343.5" y1="124.5" x2="346.0" y2="124.5" stroke="#000" stroke-width="1.1"/><rect x="355.6" y="122.3" width="8.7" height="5.0" fill="none" stroke="#222" stroke-width="0.8"/><ellipse cx="373.9" cy="124.3" rx="1.3" ry="2.4" fill="#c8e040" stroke="#333" stroke-width="0.6"/><rect x="413.1" y="121.9" width="7.9" height="5.0" fill="none" stroke="#222" stroke-width="0.8"/><circle cx="428.0" cy="124.6" r="3.0" fill="#000070" stroke="#000" stroke-width="1.0"/><line x1="341.5" y1="133.8" x2="346.0" y2="133.8" stroke="#333" stroke-width="1.1"/><line x1="358.0" y1="133.8" x2="362.5" y2="133.8" stroke="#333" stroke-width="1.1"/>
<text x="371.9" y="47.67" transform="rotate(6.0 371.9 42.9)" text-anchor="middle" font-family="DejaVu Sans, sans-serif" font-size="13.1" fill="#000">0.090</text>
<text x="411.4" y="51.77" transform="rotate(23.0 411.4 47.0)" text-anchor="middle" font-family="DejaVu Sans, sans-serif" font-size="13.1" fill="#000">0.045</text>
<text x="339.6" y="94.57" transform="rotate(-2.0 339.6 89.8)" text-anchor="middle" font-family="DejaVu Sans, sans-serif" font-size="13.1" fill="#000">0.225</text>
<text x="326.4" y="107.87" transform="rotate(-35.5 326.4 103.1)" text-anchor="middle" font-family="DejaVu Sans, sans-serif" font-size="13.1" fill="#000">0.270</text>
<text x="373.2" y="144.77" transform="rotate(-8.0 373.2 140.0)" text-anchor="middle" font-family="DejaVu Sans, sans-serif" font-size="13.1" fill="#000">0.315</text>
<text x="395.1" y="177.87" transform="rotate(-20.0 395.1 173.1)" text-anchor="middle" font-family="DejaVu Sans, sans-serif" font-size="13.1" fill="#000">0.180</text>
<text x="358.4" y="203.67" transform="rotate(-1.0 358.4 198.9)" text-anchor="middle" font-family="DejaVu Sans, sans-serif" font-size="13.1" fill="#000">0.135</text>
<text x="305.6" y="228.57" transform="rotate(0.0 305.6 223.8)" text-anchor="middle" font-family="DejaVu Sans, sans-serif" font-size="13.1" fill="#000">0.000</text>
</g>
<g clip-path="url(#cBL)">
<rect x="6.3" y="246.0" width="220.0" height="219.4" fill="#000080"/>
<path d="M234.8,364.0C234.5,369.3 234.1,374.6 233.0,379.8C232.0,385.0 230.4,390.1 228.5,394.9C226.5,399.8 223.9,404.4 221.3,408.8C218.7,413.3 215.9,417.6 212.9,421.7C209.8,425.7 206.8,429.7 203.2,433.2C199.6,436.6 195.5,439.7 191.3,442.3C187.1,444.9 182.3,446.7 177.8,448.5C173.3,450.3 168.7,451.5 164.3,452.8C159.9,454.1 155.6,455.5 151.3,456.4C147.0,457.4 142.6,457.9 138.3,458.4C134.0,458.8 129.7,458.8 125.5,458.9C121.3,459.1 117.2,459.0 113.0,459.0C108.8,458.9 104.7,458.8 100.5,458.6C96.4,458.4 92.2,458.2 87.9,457.8C83.6,457.4 79.2,457.1 74.7,456.5C70.2,455.9 65.6,455.3 60.9,454.2C56.3,453.1 51.5,451.9 47.0,450.0C42.5,448.1 38.0,445.8 34.1,442.9C30.1,440.1 26.5,436.6 23.4,432.8C20.3,429.0 17.7,424.6 15.6,420.2C13.5,415.8 11.9,411.1 10.6,406.4C9.3,401.7 8.5,396.9 7.9,392.2C7.3,387.4 7.2,382.6 7.1,377.9C7.0,373.3 7.0,368.6 7.3,364.0C7.5,359.4 7.8,354.8 8.4,350.2C9.0,345.7 9.8,341.1 10.9,336.6C11.9,332.1 13.2,327.7 14.7,323.3C16.2,318.9 18.0,314.5 20.0,310.3C22.0,306.1 24.3,301.9 27.0,298.0C29.6,294.1 32.5,290.3 35.7,286.7C38.9,283.2 42.4,279.8 46.0,276.7C49.7,273.6 53.6,270.8 57.6,268.1C61.7,265.5 65.9,263.0 70.3,260.8C74.6,258.7 79.2,256.8 83.9,255.4C88.6,253.9 93.4,252.9 98.3,252.1C103.1,251.4 108.1,250.9 113.0,250.7C117.9,250.5 122.9,250.6 127.9,250.9C132.9,251.2 137.9,251.7 142.8,252.6C147.8,253.5 152.8,254.6 157.6,256.3C162.4,258.0 167.1,260.2 171.4,262.8C175.7,265.5 179.7,268.8 183.6,272.1C187.4,275.4 190.8,279.1 194.4,282.6C197.9,286.2 201.4,289.8 204.9,293.5C208.4,297.2 212.2,300.8 215.6,304.8C219.0,308.8 222.6,312.9 225.3,317.5C228.0,322.1 230.3,327.1 231.9,332.1C233.5,337.2 234.4,342.6 234.8,348.0C235.3,353.3 235.1,358.7 234.8,364.0Z" fill="#0000FF" stroke="#111" stroke-width="0.8"/>
<path d="M221.8,364.0C221.9,368.7 221.6,373.5 220.9,378.2C220.2,382.9 219.1,387.6 217.6,392.0C216.0,396.5 214.1,400.9 211.7,404.9C209.3,408.9 206.4,412.7 203.3,416.1C200.2,419.5 196.5,422.6 192.8,425.3C189.1,427.9 185.0,430.1 181.0,432.0C177.0,433.9 172.7,435.2 168.7,436.6C164.8,438.1 160.9,439.0 157.2,440.6C153.6,442.2 150.5,444.4 147.0,446.1C143.5,447.8 140.0,449.8 136.3,450.9C132.6,451.9 128.5,452.2 124.6,452.4C120.8,452.6 116.8,452.3 113.0,451.9C109.2,451.5 105.4,450.8 101.7,450.0C98.0,449.2 94.3,448.2 90.7,447.2C87.1,446.2 83.5,445.2 79.9,444.0C76.2,442.8 72.6,441.7 69.0,440.3C65.4,438.8 61.7,437.3 58.2,435.4C54.7,433.5 51.2,431.4 48.0,429.0C44.8,426.5 41.7,423.8 39.0,420.8C36.2,417.8 33.7,414.5 31.5,411.0C29.4,407.6 27.5,403.8 25.9,400.1C24.4,396.3 23.0,392.3 22.0,388.4C21.0,384.4 20.3,380.3 19.9,376.3C19.5,372.2 19.5,368.1 19.7,364.0C19.8,359.9 20.4,355.9 21.1,351.9C21.7,347.9 22.6,344.0 23.7,340.1C24.7,336.2 25.9,332.3 27.4,328.5C28.8,324.8 30.5,321.0 32.4,317.5C34.3,313.9 36.6,310.5 39.0,307.2C41.3,303.9 43.9,300.7 46.5,297.5C49.1,294.3 51.8,291.1 54.6,287.9C57.5,284.8 60.4,281.4 63.6,278.5C66.9,275.6 70.5,272.8 74.2,270.4C78.0,268.1 82.2,266.2 86.4,264.6C90.6,263.1 95.0,261.9 99.5,261.1C103.9,260.3 108.5,260.0 113.0,260.0C117.5,260.0 122.0,260.5 126.6,261.0C131.1,261.5 135.5,262.3 140.0,263.1C144.6,263.8 149.2,264.5 153.7,265.8C158.2,267.0 162.8,268.5 166.9,270.7C171.0,272.9 174.8,275.8 178.3,278.9C181.9,281.9 185.0,285.4 188.1,288.9C191.2,292.4 194.1,296.0 196.9,299.6C199.6,303.3 202.3,307.1 204.7,311.1C207.0,315.0 209.2,319.1 211.1,323.3C213.1,327.5 214.9,331.9 216.4,336.3C217.9,340.7 219.3,345.3 220.2,349.9C221.1,354.5 221.7,359.3 221.8,364.0Z" fill="#0063FF" stroke="#111" stroke-width="0.8"/>
<path d="M211.1,364.0C211.1,368.3 210.9,372.6 210.3,376.8C209.6,381.0 208.7,385.3 207.2,389.2C205.7,393.2 203.7,397.1 201.2,400.5C198.6,403.9 195.5,407.1 192.1,409.7C188.7,412.3 184.8,414.4 181.0,416.2C177.2,417.9 173.0,419.1 169.4,420.4C165.7,421.6 162.0,422.4 158.8,423.7C155.6,425.1 153.0,426.8 150.2,428.5C147.4,430.2 144.9,432.5 141.9,433.9C139.0,435.3 135.7,436.1 132.5,436.8C129.3,437.5 126.0,437.8 122.7,438.0C119.5,438.2 116.2,438.2 113.0,438.1C109.8,437.9 106.5,437.6 103.4,437.0C100.2,436.5 97.1,435.6 94.0,434.7C91.0,433.8 88.0,432.7 85.0,431.5C82.1,430.4 79.1,429.1 76.3,427.6C73.4,426.1 70.6,424.5 68.0,422.7C65.3,420.9 62.7,418.8 60.4,416.6C58.1,414.4 55.9,411.9 54.1,409.2C52.3,406.6 50.7,403.6 49.6,400.6C48.4,397.7 47.7,394.4 46.9,391.4C46.2,388.3 45.6,385.3 45.0,382.2C44.4,379.2 43.8,376.2 43.4,373.2C43.0,370.1 42.6,367.1 42.6,364.0C42.6,360.9 42.8,357.8 43.3,354.8C43.9,351.8 44.7,348.8 45.8,346.0C46.8,343.1 48.3,340.4 49.7,337.8C51.1,335.1 52.7,332.6 54.1,330.0C55.6,327.4 56.9,324.8 58.3,322.1C59.7,319.3 61.0,316.3 62.6,313.6C64.2,310.8 66.0,308.0 68.1,305.5C70.3,303.1 72.8,301.0 75.4,298.8C77.9,296.6 80.6,294.8 83.3,292.4C86.0,289.9 88.6,287.1 91.6,284.2C94.6,281.3 97.7,277.7 101.3,275.0C104.8,272.4 108.9,269.8 113.0,268.4C117.1,267.0 121.6,266.5 125.9,266.4C130.1,266.3 134.5,267.0 138.8,267.9C143.0,268.7 147.3,269.9 151.3,271.4C155.4,273.0 159.4,274.9 163.1,277.2C166.8,279.5 170.2,282.3 173.5,285.2C176.7,288.1 179.7,291.3 182.5,294.5C185.3,297.8 187.9,301.1 190.4,304.6C192.8,308.1 195.0,311.7 197.1,315.4C199.1,319.2 201.0,323.0 202.7,326.9C204.4,330.7 206.0,334.7 207.2,338.8C208.5,342.8 209.5,347.0 210.1,351.2C210.8,355.4 211.1,359.7 211.1,364.0Z" fill="#00D4FF" stroke="#111" stroke-width="0.8"/>
<path d="M185.1,364.0C185.0,367.2 185.1,370.3 184.9,373.5C184.6,376.6 184.3,379.8 183.4,382.9C182.5,385.9 181.3,388.9 179.7,391.6C178.1,394.3 176.1,396.9 173.9,399.2C171.8,401.4 169.2,403.4 166.7,405.2C164.2,407.0 161.4,408.4 158.8,409.8C156.1,411.1 153.4,412.2 150.8,413.3C148.2,414.3 145.6,415.3 143.1,416.2C140.6,417.1 138.2,417.9 135.7,418.8C133.2,419.7 130.9,420.6 128.4,421.5C125.9,422.3 123.4,423.3 120.9,423.9C118.3,424.4 115.6,424.8 113.0,425.0C110.4,425.1 107.7,425.0 105.0,424.7C102.3,424.5 99.7,424.0 97.0,423.5C94.4,423.0 91.7,422.5 89.1,421.7C86.5,420.9 83.8,420.0 81.4,418.8C78.9,417.6 76.4,416.1 74.3,414.4C72.2,412.7 70.2,410.6 68.7,408.3C67.1,406.1 65.9,403.4 65.1,400.8C64.3,398.1 64.1,395.1 63.6,392.5C63.1,389.9 62.6,387.5 62.0,385.1C61.4,382.7 60.6,380.5 60.0,378.2C59.4,375.9 58.8,373.6 58.4,371.2C58.0,368.8 57.6,366.4 57.4,364.0C57.3,361.6 57.3,359.1 57.5,356.7C57.8,354.3 58.3,351.9 58.8,349.5C59.4,347.1 60.1,344.7 60.9,342.4C61.6,340.1 62.5,337.7 63.5,335.4C64.6,333.2 65.7,330.9 67.1,328.8C68.5,326.7 70.0,324.6 71.8,322.8C73.5,320.9 75.4,319.2 77.5,317.7C79.6,316.3 81.8,315.0 84.1,313.9C86.3,312.8 88.7,311.9 91.1,311.1C93.4,310.2 95.8,309.5 98.2,308.7C100.6,307.9 102.9,307.1 105.4,306.3C107.9,305.4 110.4,304.6 113.0,303.7C115.6,302.9 118.4,302.0 121.3,301.3C124.1,300.5 127.2,299.8 130.3,299.3C133.5,298.9 136.8,298.6 140.1,298.6C143.4,298.6 146.8,298.9 150.2,299.5C153.6,300.1 157.1,301.0 160.4,302.2C163.8,303.4 167.2,304.9 170.2,306.8C173.2,308.7 176.2,311.0 178.6,313.7C180.9,316.3 183.1,319.5 184.5,322.7C185.9,326.0 186.7,329.7 187.1,333.3C187.5,336.9 187.1,340.7 186.9,344.2C186.6,347.7 185.9,351.1 185.6,354.4C185.3,357.7 185.2,360.8 185.1,364.0Z" fill="#4DFFA9" stroke="#111" stroke-width="0.8"/>
<path d="M170.9,364.0C171.1,366.5 171.2,369.1 171.3,371.7C171.5,374.3 171.7,377.0 171.7,379.7C171.7,382.5 171.7,385.4 171.4,388.2C171.0,391.0 170.9,394.2 169.6,396.7C168.4,399.2 166.2,401.4 164.0,403.1C161.7,404.8 158.8,406.0 156.1,407.1C153.4,408.1 150.5,408.8 147.8,409.4C145.1,410.0 142.5,410.3 139.9,410.6C137.4,411.0 135.0,411.2 132.6,411.4C130.3,411.6 128.1,411.8 125.8,412.0C123.6,412.1 121.5,412.4 119.4,412.5C117.2,412.6 115.1,412.6 113.0,412.6C110.9,412.5 108.8,412.4 106.7,412.1C104.6,411.8 102.5,411.4 100.5,410.7C98.5,410.1 96.5,409.2 94.7,408.2C92.9,407.2 91.1,406.0 89.5,404.7C87.8,403.5 86.2,402.2 84.8,400.7C83.4,399.3 82.0,397.8 80.8,396.2C79.6,394.6 78.6,392.9 77.6,391.2C76.6,389.4 75.8,387.7 75.0,385.9C74.2,384.2 73.5,382.4 73.0,380.6C72.4,378.8 72.2,376.9 71.8,375.1C71.3,373.2 70.9,371.4 70.6,369.6C70.2,367.7 69.8,365.9 69.6,364.0C69.4,362.1 69.2,360.2 69.3,358.2C69.4,356.3 69.5,354.3 70.0,352.5C70.5,350.6 71.6,348.9 72.5,347.2C73.4,345.5 74.4,343.9 75.4,342.3C76.4,340.6 77.2,338.9 78.3,337.4C79.5,335.9 80.7,334.3 82.2,333.2C83.7,332.1 85.7,331.4 87.5,330.7C89.2,330.0 91.1,329.7 92.9,329.1C94.6,328.6 96.2,328.2 97.8,327.3C99.4,326.5 100.8,325.6 102.3,323.9C103.8,322.2 105.0,318.7 106.8,317.2C108.6,315.7 110.9,315.2 113.0,314.8C115.1,314.4 117.3,314.8 119.4,315.0C121.6,315.2 123.7,315.6 125.9,316.0C128.0,316.5 130.0,317.1 132.2,317.5C134.5,318.0 136.7,318.3 139.1,318.7C141.6,319.1 144.3,319.3 146.7,320.0C149.2,320.7 151.8,321.7 154.0,323.0C156.2,324.3 158.3,326.0 160.1,327.9C161.9,329.7 163.7,331.8 164.9,334.0C166.2,336.3 167.0,338.9 167.7,341.4C168.3,343.9 168.5,346.5 168.9,349.0C169.4,351.5 169.9,354.0 170.2,356.5C170.6,359.0 170.7,361.5 170.9,364.0Z" fill="#A9FF4D" stroke="#111" stroke-width="0.8"/>
<path d="M69.0,339.7C68.8,338.0 69.7,334.4 71.0,331.7C72.3,329.0 74.3,326.1 77.0,323.7C79.7,321.3 83.7,318.7 87.0,317.2C90.3,315.7 94.1,315.0 97.0,314.7C99.9,314.4 103.2,314.5 104.5,315.2C105.8,315.9 104.6,317.5 104.8,318.7C105.0,319.9 103.8,321.5 105.5,322.2C107.2,322.9 112.1,322.8 115.0,323.0C117.9,323.2 121.2,322.8 123.0,323.5C124.8,324.2 125.5,325.9 125.5,327.2C125.5,328.5 123.8,329.9 123.0,331.2C122.2,332.4 124.7,334.1 121.0,334.7C117.3,335.3 104.5,335.4 101.0,334.7C97.5,334.0 101.4,331.4 99.7,330.5C98.0,329.6 94.1,328.5 91.0,329.0C87.9,329.5 84.2,331.3 81.0,333.5C77.8,335.7 74.0,341.0 72.0,342.0C70.0,343.0 69.2,341.4 69.0,339.7Z" fill="#4DFFA9"/>
<path d="M72.0,342.0C73.5,340.6 77.8,335.7 81.0,333.5C84.2,331.3 87.9,329.5 91.0,329.0C94.1,328.5 98.0,329.9 99.7,330.5C101.4,331.1 100.8,332.3 101.0,332.7" fill="none" stroke="#111" stroke-width="0.8"/>
<path d="M123.0,331.2C123.4,330.5 125.5,328.5 125.5,327.2C125.5,325.9 124.8,324.2 123.0,323.5C121.2,322.8 117.9,323.2 115.0,323.0C112.1,322.8 107.2,322.9 105.5,322.2C103.8,321.5 105.0,319.7 104.8,318.7C104.6,317.7 104.5,316.6 104.5,316.2" fill="none" stroke="#111" stroke-width="0.8"/>
<path d="M155.6,364.0C155.3,365.9 154.8,367.7 154.3,369.4C153.8,371.2 153.4,373.0 152.9,374.7C152.4,376.4 151.8,378.1 151.2,379.8C150.5,381.5 149.8,383.1 148.8,384.7C147.9,386.2 146.8,387.7 145.7,389.1C144.5,390.4 143.1,391.6 141.8,392.8C140.4,393.9 138.8,394.8 137.3,395.7C135.8,396.6 134.3,397.4 132.7,398.1C131.1,398.8 129.6,399.5 128.0,400.1C126.4,400.7 124.7,401.2 123.1,401.5C121.4,401.9 119.7,402.1 118.0,402.2C116.4,402.3 114.7,402.2 113.0,402.1C111.3,401.9 109.7,401.7 108.1,401.3C106.5,401.0 104.9,400.5 103.4,400.0C101.8,399.5 100.3,398.9 98.8,398.2C97.3,397.6 95.9,396.9 94.5,396.0C93.2,395.1 91.8,394.2 90.7,393.1C89.5,392.0 88.4,390.8 87.4,389.6C86.4,388.3 85.6,387.0 84.8,385.6C84.0,384.3 83.3,382.9 82.7,381.5C82.1,380.1 81.6,378.6 81.2,377.2C80.7,375.7 80.4,374.3 80.1,372.8C79.8,371.4 79.7,369.9 79.6,368.4C79.5,366.9 79.5,365.5 79.6,364.0C79.7,362.5 79.9,361.1 80.2,359.7C80.4,358.3 80.8,356.9 81.1,355.5C81.5,354.1 81.9,352.7 82.3,351.3C82.8,349.9 83.3,348.5 83.9,347.2C84.5,345.8 85.1,344.5 85.9,343.2C86.7,341.9 87.6,340.7 88.6,339.6C89.6,338.4 90.7,337.4 91.8,336.4C93.0,335.4 94.3,333.9 95.6,333.8C96.9,333.8 98.3,335.8 99.7,336.2C101.1,336.6 102.6,336.2 104.1,336.2C105.5,336.2 107.1,336.2 108.5,336.2C110.0,336.2 111.5,336.2 113.0,336.2C114.5,336.2 115.9,336.2 117.4,336.2C118.8,336.2 120.2,336.7 121.6,336.2C123.0,335.7 124.4,333.3 125.9,332.9C127.3,332.6 128.8,333.6 130.4,333.9C132.0,334.1 133.7,334.3 135.5,334.7C137.3,335.1 139.2,335.4 141.0,336.0C142.8,336.6 144.8,337.3 146.5,338.3C148.2,339.3 149.9,340.5 151.2,341.9C152.6,343.4 153.7,345.0 154.6,346.8C155.4,348.5 156.0,350.5 156.3,352.4C156.6,354.3 156.6,356.3 156.5,358.3C156.4,360.2 156.0,362.1 155.6,364.0Z" fill="#FFE600" stroke="#111" stroke-width="0.8"/>
<path d="M100.9,332.7C103.3,331.5 106.8,333.0 110.0,333.2C113.2,333.4 117.2,333.0 119.9,333.7C122.6,334.3 124.4,335.4 126.0,337.1C127.6,338.8 128.1,341.8 129.5,344.1C130.9,346.4 132.9,348.7 134.5,350.8C136.1,352.9 137.9,354.6 139.2,356.7C140.4,358.9 141.5,361.2 142.1,363.7C142.6,366.2 143.1,369.5 142.5,371.8C141.9,374.2 140.7,376.5 138.7,377.8C136.6,379.1 133.5,379.3 130.1,379.8C126.6,380.3 122.0,380.4 118.0,380.7C114.0,381.0 109.0,381.0 106.0,381.3C103.0,381.6 101.6,382.1 100.0,382.7C98.4,383.3 97.7,385.0 96.5,384.7C95.4,384.3 94.3,382.4 93.2,380.6C92.1,378.7 90.6,376.1 90.0,373.6C89.3,371.1 88.9,368.2 89.1,365.4C89.3,362.7 90.7,360.0 91.3,357.2C91.9,354.5 91.9,351.6 92.6,348.8C93.4,345.9 94.2,342.8 95.6,340.1C97.0,337.4 98.5,333.9 100.9,332.7Z" fill="#FF7D00" stroke="#111" stroke-width="0.8"/>
<path d="M119.0,331.7C119.0,332.0 118.8,332.4 118.4,332.7C118.1,333.0 117.5,333.3 116.8,333.5C116.1,333.8 115.3,334.0 114.4,334.1C113.5,334.2 112.5,334.3 111.5,334.3C110.5,334.3 109.5,334.2 108.6,334.1C107.7,334.0 106.9,333.8 106.2,333.5C105.5,333.3 104.9,333.0 104.6,332.7C104.2,332.4 104.0,332.0 104.0,331.7C104.0,331.4 104.2,331.0 104.6,330.7C104.9,330.4 105.5,330.1 106.2,329.9C106.9,329.6 107.7,329.4 108.6,329.3C109.5,329.2 110.5,329.1 111.5,329.1C112.5,329.1 113.5,329.2 114.4,329.3C115.3,329.4 116.1,329.6 116.8,329.9C117.5,330.1 118.1,330.4 118.4,330.7C118.8,331.0 119.0,331.4 119.0,331.7Z" fill="#A9FF4D" stroke="#111" stroke-width="0.8"/>
<path d="M120.8,336.0C120.8,336.4 120.6,336.8 120.3,337.1C120.0,337.5 119.5,337.8 118.9,338.1C118.3,338.4 117.6,338.7 116.8,338.9C115.9,339.1 115.0,339.3 114.0,339.4C113.1,339.5 112.0,339.6 111.0,339.6C110.0,339.6 108.9,339.5 108.0,339.4C107.0,339.3 106.1,339.1 105.2,338.9C104.4,338.7 103.7,338.4 103.1,338.1C102.5,337.8 102.0,337.5 101.7,337.1C101.4,336.8 101.2,336.4 101.2,336.0C101.2,335.6 101.4,335.2 101.7,334.9C102.0,334.5 102.5,334.2 103.1,333.9C103.7,333.6 104.4,333.3 105.2,333.1C106.1,332.9 107.0,332.7 108.0,332.6C108.9,332.5 110.0,332.4 111.0,332.4C112.0,332.4 113.1,332.5 114.0,332.6C115.0,332.7 115.9,332.9 116.8,333.1C117.6,333.3 118.3,333.6 118.9,333.9C119.5,334.2 120.0,334.5 120.3,334.9C120.6,335.2 120.8,335.6 120.8,336.0Z" fill="#FF1400" stroke="#111" stroke-width="0.8"/>
<g clip-path="url(#lBL)"><g opacity="0.999">
<rect x="6.3" y="246.0" width="220.0" height="219.4" fill="#000080"/>
<path d="M234.8,364.0C234.5,369.3 234.1,374.6 233.0,379.8C232.0,385.0 230.4,390.1 228.5,394.9C226.5,399.8 223.9,404.4 221.3,408.8C218.7,413.3 215.9,417.6 212.9,421.7C209.8,425.7 206.8,429.7 203.2,433.2C199.6,436.6 195.5,439.7 191.3,442.3C187.1,444.9 182.3,446.7 177.8,448.5C173.3,450.3 168.7,451.5 164.3,452.8C159.9,454.1 155.6,455.5 151.3,456.4C147.0,457.4 142.6,457.9 138.3,458.4C134.0,458.8 129.7,458.8 125.5,458.9C121.3,459.1 117.2,459.0 113.0,459.0C108.8,458.9 104.7,458.8 100.5,458.6C96.4,458.4 92.2,458.2 87.9,457.8C83.6,457.4 79.2,457.1 74.7,456.5C70.2,455.9 65.6,455.3 60.9,454.2C56.3,453.1 51.5,451.9 47.0,450.0C42.5,448.1 38.0,445.8 34.1,442.9C30.1,440.1 26.5,436.6 23.4,432.8C20.3,429.0 17.7,424.6 15.6,420.2C13.5,415.8 11.9,411.1 10.6,406.4C9.3,401.7 8.5,396.9 7.9,392.2C7.3,387.4 7.2,382.6 7.1,377.9C7.0,373.3 7.0,368.6 7.3,364.0C7.5,359.4 7.8,354.8 8.4,350.2C9.0,345.7 9.8,341.1 10.9,336.6C11.9,332.1 13.2,327.7 14.7,323.3C16.2,318.9 18.0,314.5 20.0,310.3C22.0,306.1 24.3,301.9 27.0,298.0C29.6,294.1 32.5,290.3 35.7,286.7C38.9,283.2 42.4,279.8 46.0,276.7C49.7,273.6 53.6,270.8 57.6,268.1C61.7,265.5 65.9,263.0 70.3,260.8C74.6,258.7 79.2,256.8 83.9,255.4C88.6,253.9 93.4,252.9 98.3,252.1C103.1,251.4 108.1,250.9 113.0,250.7C117.9,250.5 122.9,250.6 127.9,250.9C132.9,251.2 137.9,251.7 142.8,252.6C147.8,253.5 152.8,254.6 157.6,256.3C162.4,258.0 167.1,260.2 171.4,262.8C175.7,265.5 179.7,268.8 183.6,272.1C187.4,275.4 190.8,279.1 194.4,282.6C197.9,286.2 201.4,289.8 204.9,293.5C208.4,297.2 212.2,300.8 215.6,304.8C219.0,308.8 222.6,312.9 225.3,317.5C228.0,322.1 230.3,327.1 231.9,332.1C233.5,337.2 234.4,342.6 234.8,348.0C235.3,353.3 235.1,358.7 234.8,364.0Z" fill="#0000FF"/>
<path d="M221.8,364.0C221.9,368.7 221.6,373.5 220.9,378.2C220.2,382.9 219.1,387.6 217.6,392.0C216.0,396.5 214.1,400.9 211.7,404.9C209.3,408.9 206.4,412.7 203.3,416.1C200.2,419.5 196.5,422.6 192.8,425.3C189.1,427.9 185.0,430.1 181.0,432.0C177.0,433.9 172.7,435.2 168.7,436.6C164.8,438.1 160.9,439.0 157.2,440.6C153.6,442.2 150.5,444.4 147.0,446.1C143.5,447.8 140.0,449.8 136.3,450.9C132.6,451.9 128.5,452.2 124.6,452.4C120.8,452.6 116.8,452.3 113.0,451.9C109.2,451.5 105.4,450.8 101.7,450.0C98.0,449.2 94.3,448.2 90.7,447.2C87.1,446.2 83.5,445.2 79.9,444.0C76.2,442.8 72.6,441.7 69.0,440.3C65.4,438.8 61.7,437.3 58.2,435.4C54.7,433.5 51.2,431.4 48.0,429.0C44.8,426.5 41.7,423.8 39.0,420.8C36.2,417.8 33.7,414.5 31.5,411.0C29.4,407.6 27.5,403.8 25.9,400.1C24.4,396.3 23.0,392.3 22.0,388.4C21.0,384.4 20.3,380.3 19.9,376.3C19.5,372.2 19.5,368.1 19.7,364.0C19.8,359.9 20.4,355.9 21.1,351.9C21.7,347.9 22.6,344.0 23.7,340.1C24.7,336.2 25.9,332.3 27.4,328.5C28.8,324.8 30.5,321.0 32.4,317.5C34.3,313.9 36.6,310.5 39.0,307.2C41.3,303.9 43.9,300.7 46.5,297.5C49.1,294.3 51.8,291.1 54.6,287.9C57.5,284.8 60.4,281.4 63.6,278.5C66.9,275.6 70.5,272.8 74.2,270.4C78.0,268.1 82.2,266.2 86.4,264.6C90.6,263.1 95.0,261.9 99.5,261.1C103.9,260.3 108.5,260.0 113.0,260.0C117.5,260.0 122.0,260.5 126.6,261.0C131.1,261.5 135.5,262.3 140.0,263.1C144.6,263.8 149.2,264.5 153.7,265.8C158.2,267.0 162.8,268.5 166.9,270.7C171.0,272.9 174.8,275.8 178.3,278.9C181.9,281.9 185.0,285.4 188.1,288.9C191.2,292.4 194.1,296.0 196.9,299.6C199.6,303.3 202.3,307.1 204.7,311.1C207.0,315.0 209.2,319.1 211.1,323.3C213.1,327.5 214.9,331.9 216.4,336.3C217.9,340.7 219.3,345.3 220.2,349.9C221.1,354.5 221.7,359.3 221.8,364.0Z" fill="#0063FF"/>
<path d="M211.1,364.0C211.1,368.3 210.9,372.6 210.3,376.8C209.6,381.0 208.7,385.3 207.2,389.2C205.7,393.2 203.7,397.1 201.2,400.5C198.6,403.9 195.5,407.1 192.1,409.7C188.7,412.3 184.8,414.4 181.0,416.2C177.2,417.9 173.0,419.1 169.4,420.4C165.7,421.6 162.0,422.4 158.8,423.7C155.6,425.1 153.0,426.8 150.2,428.5C147.4,430.2 144.9,432.5 141.9,433.9C139.0,435.3 135.7,436.1 132.5,436.8C129.3,437.5 126.0,437.8 122.7,438.0C119.5,438.2 116.2,438.2 113.0,438.1C109.8,437.9 106.5,437.6 103.4,437.0C100.2,436.5 97.1,435.6 94.0,434.7C91.0,433.8 88.0,432.7 85.0,431.5C82.1,430.4 79.1,429.1 76.3,427.6C73.4,426.1 70.6,424.5 68.0,422.7C65.3,420.9 62.7,418.8 60.4,416.6C58.1,414.4 55.9,411.9 54.1,409.2C52.3,406.6 50.7,403.6 49.6,400.6C48.4,397.7 47.7,394.4 46.9,391.4C46.2,388.3 45.6,385.3 45.0,382.2C44.4,379.2 43.8,376.2 43.4,373.2C43.0,370.1 42.6,367.1 42.6,364.0C42.6,360.9 42.8,357.8 43.3,354.8C43.9,351.8 44.7,348.8 45.8,346.0C46.8,343.1 48.3,340.4 49.7,337.8C51.1,335.1 52.7,332.6 54.1,330.0C55.6,327.4 56.9,324.8 58.3,322.1C59.7,319.3 61.0,316.3 62.6,313.6C64.2,310.8 66.0,308.0 68.1,305.5C70.3,303.1 72.8,301.0 75.4,298.8C77.9,296.6 80.6,294.8 83.3,292.4C86.0,289.9 88.6,287.1 91.6,284.2C94.6,281.3 97.7,277.7 101.3,275.0C104.8,272.4 108.9,269.8 113.0,268.4C117.1,267.0 121.6,266.5 125.9,266.4C130.1,266.3 134.5,267.0 138.8,267.9C143.0,268.7 147.3,269.9 151.3,271.4C155.4,273.0 159.4,274.9 163.1,277.2C166.8,279.5 170.2,282.3 173.5,285.2C176.7,288.1 179.7,291.3 182.5,294.5C185.3,297.8 187.9,301.1 190.4,304.6C192.8,308.1 195.0,311.7 197.1,315.4C199.1,319.2 201.0,323.0 202.7,326.9C204.4,330.7 206.0,334.7 207.2,338.8C208.5,342.8 209.5,347.0 210.1,351.2C210.8,355.4 211.1,359.7 211.1,364.0Z" fill="#00D4FF"/>
<path d="M185.1,364.0C185.0,367.2 185.1,370.3 184.9,373.5C184.6,376.6 184.3,379.8 183.4,382.9C182.5,385.9 181.3,388.9 179.7,391.6C178.1,394.3 176.1,396.9 173.9,399.2C171.8,401.4 169.2,403.4 166.7,405.2C164.2,407.0 161.4,408.4 158.8,409.8C156.1,411.1 153.4,412.2 150.8,413.3C148.2,414.3 145.6,415.3 143.1,416.2C140.6,417.1 138.2,417.9 135.7,418.8C133.2,419.7 130.9,420.6 128.4,421.5C125.9,422.3 123.4,423.3 120.9,423.9C118.3,424.4 115.6,424.8 113.0,425.0C110.4,425.1 107.7,425.0 105.0,424.7C102.3,424.5 99.7,424.0 97.0,423.5C94.4,423.0 91.7,422.5 89.1,421.7C86.5,420.9 83.8,420.0 81.4,418.8C78.9,417.6 76.4,416.1 74.3,414.4C72.2,412.7 70.2,410.6 68.7,408.3C67.1,406.1 65.9,403.4 65.1,400.8C64.3,398.1 64.1,395.1 63.6,392.5C63.1,389.9 62.6,387.5 62.0,385.1C61.4,382.7 60.6,380.5 60.0,378.2C59.4,375.9 58.8,373.6 58.4,371.2C58.0,368.8 57.6,366.4 57.4,364.0C57.3,361.6 57.3,359.1 57.5,356.7C57.8,354.3 58.3,351.9 58.8,349.5C59.4,347.1 60.1,344.7 60.9,342.4C61.6,340.1 62.5,337.7 63.5,335.4C64.6,333.2 65.7,330.9 67.1,328.8C68.5,326.7 70.0,324.6 71.8,322.8C73.5,320.9 75.4,319.2 77.5,317.7C79.6,316.3 81.8,315.0 84.1,313.9C86.3,312.8 88.7,311.9 91.1,311.1C93.4,310.2 95.8,309.5 98.2,308.7C100.6,307.9 102.9,307.1 105.4,306.3C107.9,305.4 110.4,304.6 113.0,303.7C115.6,302.9 118.4,302.0 121.3,301.3C124.1,300.5 127.2,299.8 130.3,299.3C133.5,298.9 136.8,298.6 140.1,298.6C143.4,298.6 146.8,298.9 150.2,299.5C153.6,300.1 157.1,301.0 160.4,302.2C163.8,303.4 167.2,304.9 170.2,306.8C173.2,308.7 176.2,311.0 178.6,313.7C180.9,316.3 183.1,319.5 184.5,322.7C185.9,326.0 186.7,329.7 187.1,333.3C187.5,336.9 187.1,340.7 186.9,344.2C186.6,347.7 185.9,351.1 185.6,354.4C185.3,357.7 185.2,360.8 185.1,364.0Z" fill="#4DFFA9"/>
<path d="M170.9,364.0C171.1,366.5 171.2,369.1 171.3,371.7C171.5,374.3 171.7,377.0 171.7,379.7C171.7,382.5 171.7,385.4 171.4,388.2C171.0,391.0 170.9,394.2 169.6,396.7C168.4,399.2 166.2,401.4 164.0,403.1C161.7,404.8 158.8,406.0 156.1,407.1C153.4,408.1 150.5,408.8 147.8,409.4C145.1,410.0 142.5,410.3 139.9,410.6C137.4,411.0 135.0,411.2 132.6,411.4C130.3,411.6 128.1,411.8 125.8,412.0C123.6,412.1 121.5,412.4 119.4,412.5C117.2,412.6 115.1,412.6 113.0,412.6C110.9,412.5 108.8,412.4 106.7,412.1C104.6,411.8 102.5,411.4 100.5,410.7C98.5,410.1 96.5,409.2 94.7,408.2C92.9,407.2 91.1,406.0 89.5,404.7C87.8,403.5 86.2,402.2 84.8,400.7C83.4,399.3 82.0,397.8 80.8,396.2C79.6,394.6 78.6,392.9 77.6,391.2C76.6,389.4 75.8,387.7 75.0,385.9C74.2,384.2 73.5,382.4 73.0,380.6C72.4,378.8 72.2,376.9 71.8,375.1C71.3,373.2 70.9,371.4 70.6,369.6C70.2,367.7 69.8,365.9 69.6,364.0C69.4,362.1 69.2,360.2 69.3,358.2C69.4,356.3 69.5,354.3 70.0,352.5C70.5,350.6 71.6,348.9 72.5,347.2C73.4,345.5 74.4,343.9 75.4,342.3C76.4,340.6 77.2,338.9 78.3,337.4C79.5,335.9 80.7,334.3 82.2,333.2C83.7,332.1 85.7,331.4 87.5,330.7C89.2,330.0 91.1,329.7 92.9,329.1C94.6,328.6 96.2,328.2 97.8,327.3C99.4,326.5 100.8,325.6 102.3,323.9C103.8,322.2 105.0,318.7 106.8,317.2C108.6,315.7 110.9,315.2 113.0,314.8C115.1,314.4 117.3,314.8 119.4,315.0C121.6,315.2 123.7,315.6 125.9,316.0C128.0,316.5 130.0,317.1 132.2,317.5C134.5,318.0 136.7,318.3 139.1,318.7C141.6,319.1 144.3,319.3 146.7,320.0C149.2,320.7 151.8,321.7 154.0,323.0C156.2,324.3 158.3,326.0 160.1,327.9C161.9,329.7 163.7,331.8 164.9,334.0C166.2,336.3 167.0,338.9 167.7,341.4C168.3,343.9 168.5,346.5 168.9,349.0C169.4,351.5 169.9,354.0 170.2,356.5C170.6,359.0 170.7,361.5 170.9,364.0Z" fill="#A9FF4D"/>
<path d="M69.0,339.7C68.8,338.0 69.7,334.4 71.0,331.7C72.3,329.0 74.3,326.1 77.0,323.7C79.7,321.3 83.7,318.7 87.0,317.2C90.3,315.7 94.1,315.0 97.0,314.7C99.9,314.4 103.2,314.5 104.5,315.2C105.8,315.9 104.6,317.5 104.8,318.7C105.0,319.9 103.8,321.5 105.5,322.2C107.2,322.9 112.1,322.8 115.0,323.0C117.9,323.2 121.2,322.8 123.0,323.5C124.8,324.2 125.5,325.9 125.5,327.2C125.5,328.5 123.8,329.9 123.0,331.2C122.2,332.4 124.7,334.1 121.0,334.7C117.3,335.3 104.5,335.4 101.0,334.7C97.5,334.0 101.4,331.4 99.7,330.5C98.0,329.6 94.1,328.5 91.0,329.0C87.9,329.5 84.2,331.3 81.0,333.5C77.8,335.7 74.0,341.0 72.0,342.0C70.0,343.0 69.2,341.4 69.0,339.7Z" fill="#4DFFA9"/>
<path d="M155.6,364.0C155.3,365.9 154.8,367.7 154.3,369.4C153.8,371.2 153.4,373.0 152.9,374.7C152.4,376.4 151.8,378.1 151.2,379.8C150.5,381.5 149.8,383.1 148.8,384.7C147.9,386.2 146.8,387.7 145.7,389.1C144.5,390.4 143.1,391.6 141.8,392.8C140.4,393.9 138.8,394.8 137.3,395.7C135.8,396.6 134.3,397.4 132.7,398.1C131.1,398.8 129.6,399.5 128.0,400.1C126.4,400.7 124.7,401.2 123.1,401.5C121.4,401.9 119.7,402.1 118.0,402.2C116.4,402.3 114.7,402.2 113.0,402.1C111.3,401.9 109.7,401.7 108.1,401.3C106.5,401.0 104.9,400.5 103.4,400.0C101.8,399.5 100.3,398.9 98.8,398.2C97.3,397.6 95.9,396.9 94.5,396.0C93.2,395.1 91.8,394.2 90.7,393.1C89.5,392.0 88.4,390.8 87.4,389.6C86.4,388.3 85.6,387.0 84.8,385.6C84.0,384.3 83.3,382.9 82.7,381.5C82.1,380.1 81.6,378.6 81.2,377.2C80.7,375.7 80.4,374.3 80.1,372.8C79.8,371.4 79.7,369.9 79.6,368.4C79.5,366.9 79.5,365.5 79.6,364.0C79.7,362.5 79.9,361.1 80.2,359.7C80.4,358.3 80.8,356.9 81.1,355.5C81.5,354.1 81.9,352.7 82.3,351.3C82.8,349.9 83.3,348.5 83.9,347.2C84.5,345.8 85.1,344.5 85.9,343.2C86.7,341.9 87.6,340.7 88.6,339.6C89.6,338.4 90.7,337.4 91.8,336.4C93.0,335.4 94.3,333.9 95.6,333.8C96.9,333.8 98.3,335.8 99.7,336.2C101.1,336.6 102.6,336.2 104.1,336.2C105.5,336.2 107.1,336.2 108.5,336.2C110.0,336.2 111.5,336.2 113.0,336.2C114.5,336.2 115.9,336.2 117.4,336.2C118.8,336.2 120.2,336.7 121.6,336.2C123.0,335.7 124.4,333.3 125.9,332.9C127.3,332.6 128.8,333.6 130.4,333.9C132.0,334.1 133.7,334.3 135.5,334.7C137.3,335.1 139.2,335.4 141.0,336.0C142.8,336.6 144.8,337.3 146.5,338.3C148.2,339.3 149.9,340.5 151.2,341.9C152.6,343.4 153.7,345.0 154.6,346.8C155.4,348.5 156.0,350.5 156.3,352.4C156.6,354.3 156.6,356.3 156.5,358.3C156.4,360.2 156.0,362.1 155.6,364.0Z" fill="#FFE600"/>
<path d="M100.9,332.7C103.3,331.5 106.8,333.0 110.0,333.2C113.2,333.4 117.2,333.0 119.9,333.7C122.6,334.3 124.4,335.4 126.0,337.1C127.6,338.8 128.1,341.8 129.5,344.1C130.9,346.4 132.9,348.7 134.5,350.8C136.1,352.9 137.9,354.6 139.2,356.7C140.4,358.9 141.5,361.2 142.1,363.7C142.6,366.2 143.1,369.5 142.5,371.8C141.9,374.2 140.7,376.5 138.7,377.8C136.6,379.1 133.5,379.3 130.1,379.8C126.6,380.3 122.0,380.4 118.0,380.7C114.0,381.0 109.0,381.0 106.0,381.3C103.0,381.6 101.6,382.1 100.0,382.7C98.4,383.3 97.7,385.0 96.5,384.7C95.4,384.3 94.3,382.4 93.2,380.6C92.1,378.7 90.6,376.1 90.0,373.6C89.3,371.1 88.9,368.2 89.1,365.4C89.3,362.7 90.7,360.0 91.3,357.2C91.9,354.5 91.9,351.6 92.6,348.8C93.4,345.9 94.2,342.8 95.6,340.1C97.0,337.4 98.5,333.9 100.9,332.7Z" fill="#FF7D00"/>
<path d="M119.0,331.7C119.0,332.0 118.8,332.4 118.4,332.7C118.1,333.0 117.5,333.3 116.8,333.5C116.1,333.8 115.3,334.0 114.4,334.1C113.5,334.2 112.5,334.3 111.5,334.3C110.5,334.3 109.5,334.2 108.6,334.1C107.7,334.0 106.9,333.8 106.2,333.5C105.5,333.3 104.9,333.0 104.6,332.7C104.2,332.4 104.0,332.0 104.0,331.7C104.0,331.4 104.2,331.0 104.6,330.7C104.9,330.4 105.5,330.1 106.2,329.9C106.9,329.6 107.7,329.4 108.6,329.3C109.5,329.2 110.5,329.1 111.5,329.1C112.5,329.1 113.5,329.2 114.4,329.3C115.3,329.4 116.1,329.6 116.8,329.9C117.5,330.1 118.1,330.4 118.4,330.7C118.8,331.0 119.0,331.4 119.0,331.7Z" fill="#A9FF4D"/>
<path d="M120.8,336.0C120.8,336.4 120.6,336.8 120.3,337.1C120.0,337.5 119.5,337.8 118.9,338.1C118.3,338.4 117.6,338.7 116.8,338.9C115.9,339.1 115.0,339.3 114.0,339.4C113.1,339.5 112.0,339.6 111.0,339.6C110.0,339.6 108.9,339.5 108.0,339.4C107.0,339.3 106.1,339.1 105.2,338.9C104.4,338.7 103.7,338.4 103.1,338.1C102.5,337.8 102.0,337.5 101.7,337.1C101.4,336.8 101.2,336.4 101.2,336.0C101.2,335.6 101.4,335.2 101.7,334.9C102.0,334.5 102.5,334.2 103.1,333.9C103.7,333.6 104.4,333.3 105.2,333.1C106.1,332.9 107.0,332.7 108.0,332.6C108.9,332.5 110.0,332.4 111.0,332.4C112.0,332.4 113.1,332.5 114.0,332.6C115.0,332.7 115.9,332.9 116.8,333.1C117.6,333.3 118.3,333.6 118.9,333.9C119.5,334.2 120.0,334.5 120.3,334.9C120.6,335.2 120.8,335.6 120.8,336.0Z" fill="#FF1400"/>
</g></g>
<circle cx="106.5" cy="257.9" r="2.6" fill="none" stroke="#000" stroke-width="0.8"/><line x1="103.5" y1="257.9" x2="109.5" y2="257.9" stroke="#111" stroke-width="1.1"/><rect x="115.1" y="255.9" width="8.2" height="4.6" fill="none" stroke="#111" stroke-width="0.8"/><rect x="171.5" y="255.9" width="8.2" height="4.6" fill="none" stroke="#111" stroke-width="0.8"/><circle cx="185.5" cy="257.9" r="2.6" fill="none" stroke="#000" stroke-width="0.8"/><line x1="182.5" y1="257.9" x2="188.5" y2="257.9" stroke="#111" stroke-width="1.1"/><line x1="169.6" y1="266.8" x2="174.1" y2="266.8" stroke="#111" stroke-width="1.1"/><line x1="186.0" y1="266.8" x2="190.5" y2="266.8" stroke="#111" stroke-width="1.1"/><line x1="169.6" y1="275.9" x2="174.1" y2="275.9" stroke="#111" stroke-width="1.1"/><line x1="186.0" y1="275.9" x2="190.5" y2="275.9" stroke="#111" stroke-width="1.1"/><circle cx="108.0" cy="313.7" r="2.2" fill="#000050" stroke="#000" stroke-width="1.0"/><rect x="114.8" y="311.3" width="8.2" height="4.6" fill="none" stroke="#333" stroke-width="0.8"/><rect x="171.8" y="311.5" width="8.2" height="4.6" fill="none" stroke="#222" stroke-width="0.8"/><circle cx="186.4" cy="313.8" r="2.8" fill="#000070" stroke="#000" stroke-width="1.0"/><line x1="104.0" y1="319.7" x2="108.5" y2="319.7" stroke="#333" stroke-width="1.1"/><line x1="117.5" y1="319.7" x2="122.0" y2="319.7" stroke="#333" stroke-width="1.1"/><circle cx="107.8" cy="364.2" r="2.8" fill="#0000d8" stroke="#000" stroke-width="1.3"/><line x1="102.5" y1="364.2" x2="105.0" y2="364.2" stroke="#000" stroke-width="1.1"/><rect x="114.6" y="362.0" width="8.7" height="5.0" fill="none" stroke="#222" stroke-width="0.8"/><ellipse cx="132.9" cy="364.0" rx="1.3" ry="2.4" fill="#c8e040" stroke="#333" stroke-width="0.6"/><rect x="172.1" y="361.6" width="7.9" height="5.0" fill="none" stroke="#222" stroke-width="0.8"/><circle cx="187.0" cy="364.3" r="3.0" fill="#000070" stroke="#000" stroke-width="1.0"/><line x1="100.5" y1="373.5" x2="105.0" y2="373.5" stroke="#333" stroke-width="1.1"/><line x1="117.0" y1="373.5" x2="121.5" y2="373.5" stroke="#333" stroke-width="1.1"/>
<text x="119.1" y="311.57" transform="rotate(47.0 119.1 306.8)" text-anchor="middle" font-family="DejaVu Sans, sans-serif" font-size="13.1" fill="#000">0.180</text>
<text x="213.5" y="305.47" transform="rotate(39.0 213.5 300.7)" text-anchor="middle" font-family="DejaVu Sans, sans-serif" font-size="13.1" fill="#000">0.045</text>
<text x="85.5" y="347.27" transform="rotate(-39.0 85.5 342.5)" text-anchor="middle" font-family="DejaVu Sans, sans-serif" font-size="13.1" fill="#000">0.270</text>
<text x="132.4" y="384.27" transform="rotate(-5.0 132.4 379.5)" text-anchor="middle" font-family="DejaVu Sans, sans-serif" font-size="13.1" fill="#000">0.315</text>
<text x="82.4" y="404.97" transform="rotate(27.0 82.4 400.2)" text-anchor="middle" font-family="DejaVu Sans, sans-serif" font-size="13.1" fill="#000">0.225</text>
<text x="164.8" y="429.37" transform="rotate(-16.0 164.8 424.6)" text-anchor="middle" font-family="DejaVu Sans, sans-serif" font-size="13.1" fill="#000">0.135</text>
<text x="133.4" y="455.27" transform="rotate(-1.0 133.4 450.5)" text-anchor="middle" font-family="DejaVu Sans, sans-serif" font-size="13.1" fill="#000">0.090</text>
<text x="64.6" y="468.67" transform="rotate(0.0 64.6 463.9)" text-anchor="middle" font-family="DejaVu Sans, sans-serif" font-size="13.1" fill="#000">0.000</text>
</g>
<g clip-path="url(#cBR)">
<rect x="247.3" y="246.0" width="219.7" height="219.4" fill="#000080"/>
<path d="M479.8,364.0C479.5,369.4 479.1,374.6 478.8,380.0C478.5,385.5 478.6,390.9 478.3,396.5C477.9,402.1 478.1,408.1 476.9,413.7C475.8,419.3 474.4,425.3 471.5,430.1C468.6,434.9 464.3,439.3 459.6,442.7C454.9,446.1 448.8,448.4 443.3,450.3C437.8,452.3 431.9,453.4 426.4,454.4C420.9,455.5 415.6,456.2 410.6,456.8C405.5,457.4 400.7,457.8 396.0,458.2C391.3,458.6 386.9,458.9 382.5,459.1C378.1,459.4 373.9,459.7 369.6,459.8C365.4,459.9 361.2,459.9 357.0,459.7C352.8,459.5 348.7,459.2 344.5,458.8C340.3,458.4 336.2,457.9 332.0,457.4C327.7,457.0 323.4,456.5 318.9,455.9C314.4,455.4 309.8,454.8 305.0,454.1C300.1,453.4 295.0,452.7 289.7,451.7C284.4,450.7 278.6,449.7 273.0,448.0C267.4,446.3 261.1,444.4 256.2,441.3C251.3,438.3 246.5,434.2 243.4,429.6C240.3,424.9 238.7,419.0 237.6,413.5C236.4,407.9 236.7,401.9 236.5,396.3C236.4,390.7 236.7,385.2 236.7,379.8C236.8,374.5 236.9,369.3 237.0,364.0C237.1,358.7 237.2,353.6 237.2,348.2C237.3,342.9 237.3,337.5 237.5,332.0C237.7,326.4 237.7,320.6 238.7,315.0C239.6,309.4 240.9,303.5 243.1,298.2C245.3,292.9 248.4,287.9 251.9,283.3C255.3,278.7 259.5,274.6 263.6,270.6C267.7,266.6 272.1,262.8 276.5,259.1C281.0,255.5 285.6,251.8 290.5,248.8C295.4,245.7 300.6,242.8 306.0,240.9C311.4,238.9 317.3,237.7 322.9,236.9C328.6,236.1 334.5,236.1 340.1,235.9C345.8,235.7 351.4,235.7 357.0,235.6C362.6,235.5 368.2,235.2 374.0,235.2C379.7,235.2 385.6,235.0 391.4,235.6C397.2,236.1 403.3,236.9 408.9,238.6C414.6,240.3 420.2,242.8 425.3,245.7C430.5,248.6 435.3,252.2 439.9,256.0C444.4,259.8 448.6,264.1 452.4,268.6C456.2,273.1 459.6,277.9 462.8,282.8C465.9,287.7 468.8,292.8 471.3,298.0C473.7,303.2 475.9,308.6 477.4,314.1C478.9,319.6 479.8,325.3 480.4,330.9C480.9,336.5 480.8,342.2 480.7,347.7C480.6,353.2 480.1,358.6 479.8,364.0Z" fill="#0000FF" stroke="#111" stroke-width="0.8"/>
<path d="M477.2,364.0C477.1,369.3 477.2,374.6 476.3,379.7C475.4,384.8 474.0,390.0 471.8,394.8C469.6,399.5 466.5,404.0 463.2,408.0C460.0,412.0 456.1,415.7 452.2,419.0C448.3,422.2 444.1,425.1 439.8,427.5C435.5,429.9 430.8,431.8 426.4,433.4C422.0,435.1 417.6,436.2 413.4,437.5C409.3,438.9 405.4,440.0 401.6,441.3C397.9,442.6 394.4,444.3 390.8,445.5C387.1,446.8 383.5,448.0 379.7,448.9C376.0,449.7 372.2,450.3 368.4,450.7C364.6,451.1 360.8,451.3 357.0,451.3C353.2,451.2 349.4,450.9 345.6,450.4C341.9,449.8 338.2,448.9 334.5,447.9C330.8,447.0 327.2,445.8 323.6,444.6C320.0,443.4 316.3,442.2 312.6,440.8C309.0,439.4 305.3,437.9 301.6,436.2C298.0,434.4 294.3,432.4 290.9,430.1C287.4,427.8 283.9,425.3 280.9,422.4C277.8,419.5 274.8,416.3 272.4,412.9C269.9,409.4 267.7,405.6 266.0,401.7C264.3,397.8 263.1,393.6 262.2,389.4C261.2,385.3 260.8,380.9 260.5,376.7C260.2,372.5 260.3,368.2 260.4,364.0C260.6,359.8 261.0,355.6 261.5,351.4C262.1,347.3 262.7,343.1 263.7,339.0C264.6,334.9 265.8,330.8 267.2,326.8C268.7,322.9 270.5,318.9 272.6,315.3C274.7,311.6 277.3,308.2 280.0,304.9C282.7,301.7 285.9,298.9 288.9,295.9C291.9,293.0 295.1,290.3 298.0,287.1C301.0,283.9 303.7,280.6 306.6,276.7C309.5,272.8 312.2,268.2 315.5,263.8C318.8,259.4 322.3,254.2 326.5,250.3C330.8,246.4 335.7,242.9 340.7,240.5C345.8,238.1 351.5,236.8 357.0,235.9C362.5,234.9 368.3,234.7 374.0,234.9C379.7,235.0 385.6,235.2 391.1,236.6C396.6,238.0 402.2,240.3 407.0,243.2C411.9,246.1 416.2,250.4 420.4,254.3C424.5,258.1 428.2,262.3 432.1,266.2C435.9,270.1 439.7,273.7 443.4,277.6C447.0,281.5 450.6,285.5 454.0,289.6C457.4,293.7 460.9,297.8 463.9,302.3C466.9,306.8 469.9,311.4 471.9,316.4C473.9,321.4 475.2,326.8 476.1,332.1C476.9,337.4 476.9,342.9 477.1,348.2C477.3,353.5 477.4,358.7 477.2,364.0Z" fill="#0063FF" stroke="#111" stroke-width="0.8"/>
<path d="M453.6,364.0C452.8,368.2 451.8,372.4 450.3,376.3C448.9,380.2 447.1,384.1 445.1,387.6C443.0,391.1 440.5,394.4 437.9,397.5C435.4,400.6 432.6,403.4 429.9,406.1C427.1,408.7 424.3,411.2 421.4,413.4C418.5,415.6 415.5,417.6 412.4,419.4C409.3,421.2 406.1,422.6 403.0,424.0C399.9,425.4 396.8,426.5 393.8,427.7C390.7,428.8 387.8,430.0 384.8,431.1C381.8,432.3 378.9,433.6 375.9,434.6C372.9,435.6 369.8,436.6 366.6,437.3C363.5,437.9 360.2,438.3 357.0,438.4C353.8,438.5 350.5,438.3 347.3,437.8C344.1,437.4 340.9,436.6 337.8,435.7C334.7,434.9 331.6,433.8 328.6,432.7C325.5,431.5 322.5,430.3 319.6,428.8C316.6,427.4 313.7,425.8 311.0,424.0C308.2,422.2 305.5,420.2 303.0,418.0C300.6,415.7 298.2,413.3 296.3,410.6C294.3,407.9 292.6,405.0 291.2,402.0C289.8,399.0 289.0,395.7 288.1,392.5C287.2,389.4 286.6,386.2 285.9,383.0C285.3,379.9 284.6,376.8 284.2,373.6C283.8,370.4 283.4,367.2 283.3,364.0C283.2,360.8 283.2,357.5 283.5,354.3C283.8,351.1 284.2,347.9 284.9,344.7C285.6,341.5 286.5,338.3 287.6,335.2C288.7,332.2 289.9,329.1 291.5,326.2C293.0,323.3 294.8,320.4 296.9,317.8C298.9,315.3 301.3,312.9 303.7,310.7C306.1,308.5 308.8,306.5 311.3,304.4C313.8,302.3 316.5,300.5 319.0,298.1C321.5,295.7 323.8,293.2 326.3,289.9C328.8,286.6 331.1,282.2 334.0,278.3C337.0,274.4 340.3,269.6 344.2,266.5C348.0,263.5 352.6,261.5 357.0,260.3C361.4,259.0 366.1,259.2 370.8,258.8C375.6,258.5 380.4,258.2 385.3,258.3C390.3,258.3 395.6,258.1 400.5,259.0C405.4,259.9 410.5,261.5 414.9,263.8C419.2,266.1 423.3,269.5 426.9,273.0C430.5,276.4 433.6,280.5 436.4,284.6C439.2,288.7 441.7,293.0 443.9,297.3C446.1,301.7 447.9,306.1 449.5,310.6C451.1,315.1 452.4,319.6 453.4,324.1C454.4,328.6 455.0,333.1 455.4,337.6C455.7,342.1 455.6,346.7 455.3,351.1C455.0,355.5 454.4,359.8 453.6,364.0Z" fill="#00D4FF" stroke="#111" stroke-width="0.8"/>
<path d="M426.5,364.0C426.2,367.0 425.9,370.0 425.4,373.0C424.9,376.0 424.3,379.0 423.3,381.8C422.2,384.5 421.0,387.4 419.2,389.8C417.5,392.2 415.2,394.4 412.9,396.3C410.7,398.2 408.0,399.7 405.6,401.3C403.1,402.8 400.7,404.1 398.4,405.4C396.1,406.7 393.8,407.8 391.5,409.0C389.3,410.1 387.0,411.1 384.9,412.3C382.8,413.5 380.8,414.9 378.6,416.2C376.5,417.6 374.4,419.2 372.1,420.4C369.8,421.7 367.4,422.8 364.8,423.5C362.3,424.3 359.7,424.8 357.0,425.0C354.3,425.3 351.6,425.4 348.9,425.3C346.2,425.2 343.5,425.0 340.8,424.5C338.1,424.1 335.3,423.6 332.6,422.8C330.0,422.1 327.2,421.1 324.7,419.9C322.2,418.8 319.6,417.3 317.4,415.6C315.1,414.0 313.0,412.0 311.2,409.8C309.4,407.6 307.9,405.1 306.8,402.5C305.6,400.0 305.0,397.1 304.2,394.5C303.4,391.9 302.6,389.3 301.9,386.8C301.2,384.3 300.5,381.8 300.0,379.3C299.4,376.8 299.0,374.2 298.8,371.7C298.5,369.1 298.3,366.5 298.4,364.0C298.4,361.5 298.6,358.9 299.0,356.4C299.4,353.9 300.0,351.4 300.7,348.9C301.4,346.5 302.3,344.1 303.2,341.7C304.0,339.3 305.0,336.9 306.1,334.6C307.2,332.3 308.4,329.9 309.8,327.8C311.2,325.6 312.9,323.5 314.7,321.7C316.5,319.9 318.6,318.3 320.8,316.8C322.9,315.3 325.1,314.0 327.3,312.6C329.6,311.3 331.8,310.0 334.1,308.8C336.5,307.6 338.8,306.5 341.3,305.4C343.8,304.4 346.3,303.4 348.9,302.5C351.5,301.6 354.2,300.7 357.0,300.0C359.8,299.3 362.7,298.8 365.6,298.4C368.6,298.1 371.6,298.0 374.7,298.1C377.7,298.1 380.9,298.4 384.0,298.8C387.2,299.2 390.4,299.8 393.6,300.6C396.8,301.4 400.2,302.3 403.3,303.7C406.4,305.1 409.5,306.7 412.1,308.9C414.7,311.0 417.1,313.6 419.0,316.5C420.8,319.3 422.1,322.6 423.2,325.8C424.4,328.9 425.1,332.3 425.7,335.5C426.3,338.8 426.7,342.1 426.9,345.3C427.1,348.5 427.0,351.7 427.0,354.8C426.9,357.9 426.7,361.0 426.5,364.0Z" fill="#4DFFA9" stroke="#111" stroke-width="0.8"/>
<path d="M411.7,364.0C411.8,366.4 411.9,368.8 411.6,371.2C411.4,373.6 410.9,376.0 410.2,378.3C409.5,380.5 408.6,382.8 407.5,384.9C406.3,387.0 404.9,388.9 403.3,390.7C401.8,392.5 400.1,394.2 398.3,395.7C396.5,397.2 394.6,398.5 392.7,399.7C390.7,400.8 388.7,401.8 386.6,402.6C384.6,403.4 382.4,403.9 380.5,404.6C378.5,405.3 376.6,405.9 374.7,406.8C372.9,407.8 371.3,409.5 369.4,410.3C367.5,411.2 365.4,411.9 363.3,412.2C361.3,412.5 359.1,412.4 357.0,412.3C354.9,412.1 352.8,411.8 350.8,411.1C348.8,410.4 346.9,409.4 345.2,408.2C343.4,407.0 342.1,405.1 340.5,403.9C338.9,402.7 337.2,402.0 335.6,401.1C333.9,400.2 332.1,399.6 330.4,398.6C328.7,397.7 327.0,396.7 325.5,395.5C323.9,394.3 322.4,393.0 321.1,391.6C319.7,390.1 318.5,388.5 317.4,386.9C316.3,385.2 315.3,383.4 314.5,381.6C313.7,379.8 313.0,377.9 312.4,375.9C311.8,374.0 311.2,372.1 310.8,370.1C310.4,368.1 309.9,366.0 309.8,364.0C309.7,362.0 309.7,359.8 309.9,357.8C310.2,355.8 310.8,353.7 311.5,351.8C312.2,349.9 313.3,348.1 314.2,346.3C315.1,344.5 316.2,342.7 317.2,341.0C318.2,339.3 319.0,337.4 320.3,335.9C321.6,334.3 323.2,332.9 324.9,331.9C326.7,330.9 328.9,330.4 330.8,329.9C332.8,329.4 334.9,329.3 336.7,328.9C338.6,328.5 340.3,328.6 341.8,327.4C343.3,326.2 344.2,323.5 345.7,321.7C347.1,319.9 348.9,317.6 350.8,316.6C352.6,315.6 354.9,315.5 357.0,315.6C359.1,315.7 361.2,316.4 363.2,317.0C365.2,317.6 367.1,318.5 369.0,319.1C371.0,319.8 372.9,320.3 374.9,320.9C376.8,321.4 378.9,322.0 380.9,322.6C382.9,323.3 385.0,324.0 387.0,325.0C389.0,325.9 391.0,326.9 392.9,328.1C394.8,329.3 396.7,330.7 398.4,332.2C400.1,333.8 401.7,335.5 403.1,337.4C404.4,339.3 405.5,341.4 406.5,343.5C407.5,345.6 408.3,347.8 409.0,350.1C409.7,352.3 410.3,354.6 410.7,356.9C411.2,359.2 411.6,361.6 411.7,364.0Z" fill="#A9FF4D" stroke="#111" stroke-width="0.8"/>
<path d="M310.0,339.7C309.8,338.0 310.7,334.4 312.0,331.7C313.3,329.0 315.3,326.1 318.0,323.7C320.7,321.3 324.7,318.7 328.0,317.2C331.3,315.7 335.1,315.0 338.0,314.7C340.9,314.4 344.2,314.5 345.5,315.2C346.8,315.9 345.6,317.5 345.8,318.7C346.0,319.9 344.8,321.5 346.5,322.2C348.2,322.9 353.1,322.8 356.0,323.0C358.9,323.2 362.2,322.8 364.0,323.5C365.8,324.2 366.5,325.9 366.5,327.2C366.5,328.5 364.8,329.9 364.0,331.2C363.2,332.4 365.7,334.1 362.0,334.7C358.3,335.3 345.6,335.4 342.0,334.7C338.4,334.0 342.4,331.4 340.7,330.5C339.0,329.6 335.1,328.5 332.0,329.0C328.9,329.5 325.2,331.3 322.0,333.5C318.8,335.7 315.0,341.0 313.0,342.0C311.0,343.0 310.2,341.4 310.0,339.7Z" fill="#4DFFA9"/>
<path d="M313.0,342.0C314.5,340.6 318.8,335.7 322.0,333.5C325.2,331.3 328.9,329.5 332.0,329.0C335.1,328.5 339.0,329.9 340.7,330.5C342.4,331.1 341.8,332.3 342.0,332.7" fill="none" stroke="#111" stroke-width="0.8"/>
<path d="M364.0,331.2C364.4,330.5 366.5,328.5 366.5,327.2C366.5,325.9 365.8,324.2 364.0,323.5C362.2,322.8 358.9,323.2 356.0,323.0C353.1,322.8 348.2,322.9 346.5,322.2C344.8,321.5 346.0,319.7 345.8,318.7C345.6,317.7 345.6,316.6 345.5,316.2" fill="none" stroke="#111" stroke-width="0.8"/>
<path d="M394.2,364.0C394.5,365.6 394.8,367.3 394.9,369.0C395.1,370.7 395.1,372.4 395.0,374.2C394.8,375.9 394.5,377.7 394.1,379.4C393.6,381.0 393.0,382.7 392.1,384.3C391.3,385.8 390.3,387.3 389.1,388.7C388.0,390.0 386.6,391.2 385.3,392.3C383.9,393.4 382.5,394.4 381.0,395.3C379.5,396.2 378.0,397.0 376.4,397.7C374.9,398.4 373.3,398.9 371.7,399.4C370.1,399.9 368.4,400.3 366.8,400.6C365.2,400.9 363.5,401.1 361.9,401.2C360.3,401.3 358.6,401.4 357.0,401.3C355.4,401.2 353.8,401.0 352.2,400.7C350.6,400.5 349.0,400.1 347.5,399.6C345.9,399.1 344.4,398.6 342.9,398.0C341.5,397.3 340.0,396.6 338.6,395.8C337.2,395.0 335.9,394.2 334.6,393.2C333.2,392.3 331.9,391.3 330.7,390.3C329.5,389.2 328.4,388.0 327.4,386.7C326.4,385.5 325.5,384.1 324.7,382.6C323.9,381.2 323.3,379.7 322.7,378.2C322.1,376.7 321.7,375.1 321.3,373.6C321.0,372.0 320.8,370.4 320.7,368.8C320.6,367.2 320.6,365.6 320.7,364.0C320.7,362.4 321.0,360.8 321.2,359.3C321.5,357.7 321.8,356.2 322.2,354.7C322.6,353.2 323.1,351.7 323.6,350.2C324.2,348.7 324.8,347.2 325.5,345.8C326.2,344.4 327.0,343.0 328.0,341.7C328.9,340.4 329.9,339.2 331.1,338.1C332.2,337.0 333.5,335.9 334.8,335.0C336.1,334.1 337.5,332.4 338.9,332.6C340.3,332.8 341.8,335.6 343.3,336.2C344.8,336.8 346.4,336.2 347.9,336.2C349.4,336.2 351.0,336.2 352.5,336.2C354.0,336.2 355.5,336.2 357.0,336.2C358.5,336.2 360.0,337.0 361.4,336.2C362.9,335.4 364.3,331.9 365.8,331.3C367.2,330.7 368.6,332.1 370.0,332.6C371.4,333.0 372.9,333.5 374.3,334.1C375.7,334.7 377.1,335.3 378.4,336.1C379.6,337.0 380.8,338.0 381.9,339.1C383.0,340.2 383.9,341.4 384.8,342.7C385.7,343.9 386.5,345.2 387.2,346.5C388.0,347.9 388.7,349.2 389.4,350.6C390.0,352.0 390.7,353.4 391.2,354.8C391.8,356.3 392.4,357.7 392.9,359.3C393.4,360.8 393.8,362.4 394.2,364.0Z" fill="#FFE600" stroke="#111" stroke-width="0.8"/>
<path d="M341.9,332.7C344.3,331.5 347.8,333.0 351.0,333.2C354.2,333.4 358.2,333.0 360.9,333.7C363.6,334.4 365.5,335.4 367.0,337.2C368.6,339.0 368.9,342.1 370.2,344.5C371.5,346.8 373.2,349.1 374.8,351.1C376.3,353.2 378.2,354.8 379.6,356.9C381.0,359.0 382.5,361.1 383.3,363.7C384.1,366.2 384.9,369.6 384.4,372.1C384.0,374.5 382.8,377.0 380.6,378.4C378.4,379.7 375.0,379.8 371.4,380.2C367.8,380.6 363.1,380.5 359.0,380.7C354.9,380.9 350.0,381.0 347.0,381.3C344.0,381.6 342.6,382.1 341.0,382.7C339.4,383.3 338.7,385.0 337.5,384.7C336.3,384.4 335.2,382.5 334.0,380.7C332.8,378.9 331.2,376.4 330.4,373.9C329.6,371.3 329.1,368.3 329.3,365.5C329.5,362.7 330.9,359.8 331.6,357.0C332.3,354.2 332.6,351.4 333.4,348.6C334.3,345.8 335.2,342.8 336.6,340.1C338.0,337.4 339.5,333.9 341.9,332.7Z" fill="#FF7D00" stroke="#111" stroke-width="0.8"/>
<path d="M360.0,331.7C360.0,332.0 359.8,332.4 359.4,332.7C359.1,333.0 358.5,333.3 357.8,333.5C357.1,333.8 356.3,334.0 355.4,334.1C354.5,334.2 353.5,334.3 352.5,334.3C351.5,334.3 350.5,334.2 349.6,334.1C348.7,334.0 347.9,333.8 347.2,333.5C346.5,333.3 345.9,333.0 345.6,332.7C345.2,332.4 345.0,332.0 345.0,331.7C345.0,331.4 345.2,331.0 345.6,330.7C345.9,330.4 346.5,330.1 347.2,329.9C347.9,329.6 348.7,329.4 349.6,329.3C350.5,329.2 351.5,329.1 352.5,329.1C353.5,329.1 354.5,329.2 355.4,329.3C356.3,329.4 357.1,329.6 357.8,329.9C358.5,330.1 359.1,330.4 359.4,330.7C359.8,331.0 360.0,331.4 360.0,331.7Z" fill="#A9FF4D" stroke="#111" stroke-width="0.8"/>
<path d="M361.8,336.0C361.8,336.4 361.6,336.8 361.3,337.1C361.0,337.5 360.5,337.8 359.9,338.1C359.3,338.4 358.6,338.7 357.8,338.9C356.9,339.1 356.0,339.3 355.0,339.4C354.1,339.5 353.0,339.6 352.0,339.6C351.0,339.6 349.9,339.5 349.0,339.4C348.0,339.3 347.1,339.1 346.2,338.9C345.4,338.7 344.7,338.4 344.1,338.1C343.5,337.8 343.0,337.5 342.7,337.1C342.4,336.8 342.2,336.4 342.2,336.0C342.2,335.6 342.4,335.2 342.7,334.9C343.0,334.5 343.5,334.2 344.1,333.9C344.7,333.6 345.4,333.3 346.2,333.1C347.1,332.9 348.0,332.7 349.0,332.6C349.9,332.5 351.0,332.4 352.0,332.4C353.0,332.4 354.1,332.5 355.0,332.6C356.0,332.7 356.9,332.9 357.8,333.1C358.6,333.3 359.3,333.6 359.9,333.9C360.5,334.2 361.0,334.5 361.3,334.9C361.6,335.2 361.8,335.6 361.8,336.0Z" fill="#FF1400" stroke="#111" stroke-width="0.8"/>
<g clip-path="url(#lBR)"><g opacity="0.999">
<rect x="247.3" y="246.0" width="219.7" height="219.4" fill="#000080"/>
<path d="M479.8,364.0C479.5,369.4 479.1,374.6 478.8,380.0C478.5,385.5 478.6,390.9 478.3,396.5C477.9,402.1 478.1,408.1 476.9,413.7C475.8,419.3 474.4,425.3 471.5,430.1C468.6,434.9 464.3,439.3 459.6,442.7C454.9,446.1 448.8,448.4 443.3,450.3C437.8,452.3 431.9,453.4 426.4,454.4C420.9,455.5 415.6,456.2 410.6,456.8C405.5,457.4 400.7,457.8 396.0,458.2C391.3,458.6 386.9,458.9 382.5,459.1C378.1,459.4 373.9,459.7 369.6,459.8C365.4,459.9 361.2,459.9 357.0,459.7C352.8,459.5 348.7,459.2 344.5,458.8C340.3,458.4 336.2,457.9 332.0,457.4C327.7,457.0 323.4,456.5 318.9,455.9C314.4,455.4 309.8,454.8 305.0,454.1C300.1,453.4 295.0,452.7 289.7,451.7C284.4,450.7 278.6,449.7 273.0,448.0C267.4,446.3 261.1,444.4 256.2,441.3C251.3,438.3 246.5,434.2 243.4,429.6C240.3,424.9 238.7,419.0 237.6,413.5C236.4,407.9 236.7,401.9 236.5,396.3C236.4,390.7 236.7,385.2 236.7,379.8C236.8,374.5 236.9,369.3 237.0,364.0C237.1,358.7 237.2,353.6 237.2,348.2C237.3,342.9 237.3,337.5 237.5,332.0C237.7,326.4 237.7,320.6 238.7,315.0C239.6,309.4 240.9,303.5 243.1,298.2C245.3,292.9 248.4,287.9 251.9,283.3C255.3,278.7 259.5,274.6 263.6,270.6C267.7,266.6 272.1,262.8 276.5,259.1C281.0,255.5 285.6,251.8 290.5,248.8C295.4,245.7 300.6,242.8 306.0,240.9C311.4,238.9 317.3,237.7 322.9,236.9C328.6,236.1 334.5,236.1 340.1,235.9C345.8,235.7 351.4,235.7 357.0,235.6C362.6,235.5 368.2,235.2 374.0,235.2C379.7,235.2 385.6,235.0 391.4,235.6C397.2,236.1 403.3,236.9 408.9,238.6C414.6,240.3 420.2,242.8 425.3,245.7C430.5,248.6 435.3,252.2 439.9,256.0C444.4,259.8 448.6,264.1 452.4,268.6C456.2,273.1 459.6,277.9 462.8,282.8C465.9,287.7 468.8,292.8 471.3,298.0C473.7,303.2 475.9,308.6 477.4,314.1C478.9,319.6 479.8,325.3 480.4,330.9C480.9,336.5 480.8,342.2 480.7,347.7C480.6,353.2 480.1,358.6 479.8,364.0Z" fill="#0000FF"/>
<path d="M477.2,364.0C477.1,369.3 477.2,374.6 476.3,379.7C475.4,384.8 474.0,390.0 471.8,394.8C469.6,399.5 466.5,404.0 463.2,408.0C460.0,412.0 456.1,415.7 452.2,419.0C448.3,422.2 444.1,425.1 439.8,427.5C435.5,429.9 430.8,431.8 426.4,433.4C422.0,435.1 417.6,436.2 413.4,437.5C409.3,438.9 405.4,440.0 401.6,441.3C397.9,442.6 394.4,444.3 390.8,445.5C387.1,446.8 383.5,448.0 379.7,448.9C376.0,449.7 372.2,450.3 368.4,450.7C364.6,451.1 360.8,451.3 357.0,451.3C353.2,451.2 349.4,450.9 345.6,450.4C341.9,449.8 338.2,448.9 334.5,447.9C330.8,447.0 327.2,445.8 323.6,444.6C320.0,443.4 316.3,442.2 312.6,440.8C309.0,439.4 305.3,437.9 301.6,436.2C298.0,434.4 294.3,432.4 290.9,430.1C287.4,427.8 283.9,425.3 280.9,422.4C277.8,419.5 274.8,416.3 272.4,412.9C269.9,409.4 267.7,405.6 266.0,401.7C264.3,397.8 263.1,393.6 262.2,389.4C261.2,385.3 260.8,380.9 260.5,376.7C260.2,372.5 260.3,368.2 260.4,364.0C260.6,359.8 261.0,355.6 261.5,351.4C262.1,347.3 262.7,343.1 263.7,339.0C264.6,334.9 265.8,330.8 267.2,326.8C268.7,322.9 270.5,318.9 272.6,315.3C274.7,311.6 277.3,308.2 280.0,304.9C282.7,301.7 285.9,298.9 288.9,295.9C291.9,293.0 295.1,290.3 298.0,287.1C301.0,283.9 303.7,280.6 306.6,276.7C309.5,272.8 312.2,268.2 315.5,263.8C318.8,259.4 322.3,254.2 326.5,250.3C330.8,246.4 335.7,242.9 340.7,240.5C345.8,238.1 351.5,236.8 357.0,235.9C362.5,234.9 368.3,234.7 374.0,234.9C379.7,235.0 385.6,235.2 391.1,236.6C396.6,238.0 402.2,240.3 407.0,243.2C411.9,246.1 416.2,250.4 420.4,254.3C424.5,258.1 428.2,262.3 432.1,266.2C435.9,270.1 439.7,273.7 443.4,277.6C447.0,281.5 450.6,285.5 454.0,289.6C457.4,293.7 460.9,297.8 463.9,302.3C466.9,306.8 469.9,311.4 471.9,316.4C473.9,321.4 475.2,326.8 476.1,332.1C476.9,337.4 476.9,342.9 477.1,348.2C477.3,353.5 477.4,358.7 477.2,364.0Z" fill="#0063FF"/>
<path d="M453.6,364.0C452.8,368.2 451.8,372.4 450.3,376.3C448.9,380.2 447.1,384.1 445.1,387.6C443.0,391.1 440.5,394.4 437.9,397.5C435.4,400.6 432.6,403.4 429.9,406.1C427.1,408.7 424.3,411.2 421.4,413.4C418.5,415.6 415.5,417.6 412.4,419.4C409.3,421.2 406.1,422.6 403.0,424.0C399.9,425.4 396.8,426.5 393.8,427.7C390.7,428.8 387.8,430.0 384.8,431.1C381.8,432.3 378.9,433.6 375.9,434.6C372.9,435.6 369.8,436.6 366.6,437.3C363.5,437.9 360.2,438.3 357.0,438.4C353.8,438.5 350.5,438.3 347.3,437.8C344.1,437.4 340.9,436.6 337.8,435.7C334.7,434.9 331.6,433.8 328.6,432.7C325.5,431.5 322.5,430.3 319.6,428.8C316.6,427.4 313.7,425.8 311.0,424.0C308.2,422.2 305.5,420.2 303.0,418.0C300.6,415.7 298.2,413.3 296.3,410.6C294.3,407.9 292.6,405.0 291.2,402.0C289.8,399.0 289.0,395.7 288.1,392.5C287.2,389.4 286.6,386.2 285.9,383.0C285.3,379.9 284.6,376.8 284.2,373.6C283.8,370.4 283.4,367.2 283.3,364.0C283.2,360.8 283.2,357.5 283.5,354.3C283.8,351.1 284.2,347.9 284.9,344.7C285.6,341.5 286.5,338.3 287.6,335.2C288.7,332.2 289.9,329.1 291.5,326.2C293.0,323.3 294.8,320.4 296.9,317.8C298.9,315.3 301.3,312.9 303.7,310.7C306.1,308.5 308.8,306.5 311.3,304.4C313.8,302.3 316.5,300.5 319.0,298.1C321.5,295.7 323.8,293.2 326.3,289.9C328.8,286.6 331.1,282.2 334.0,278.3C337.0,274.4 340.3,269.6 344.2,266.5C348.0,263.5 352.6,261.5 357.0,260.3C361.4,259.0 366.1,259.2 370.8,258.8C375.6,258.5 380.4,258.2 385.3,258.3C390.3,258.3 395.6,258.1 400.5,259.0C405.4,259.9 410.5,261.5 414.9,263.8C419.2,266.1 423.3,269.5 426.9,273.0C430.5,276.4 433.6,280.5 436.4,284.6C439.2,288.7 441.7,293.0 443.9,297.3C446.1,301.7 447.9,306.1 449.5,310.6C451.1,315.1 452.4,319.6 453.4,324.1C454.4,328.6 455.0,333.1 455.4,337.6C455.7,342.1 455.6,346.7 455.3,351.1C455.0,355.5 454.4,359.8 453.6,364.0Z" fill="#00D4FF"/>
<path d="M426.5,364.0C426.2,367.0 425.9,370.0 425.4,373.0C424.9,376.0 424.3,379.0 423.3,381.8C422.2,384.5 421.0,387.4 419.2,389.8C417.5,392.2 415.2,394.4 412.9,396.3C410.7,398.2 408.0,399.7 405.6,401.3C403.1,402.8 400.7,404.1 398.4,405.4C396.1,406.7 393.8,407.8 391.5,409.0C389.3,410.1 387.0,411.1 384.9,412.3C382.8,413.5 380.8,414.9 378.6,416.2C376.5,417.6 374.4,419.2 372.1,420.4C369.8,421.7 367.4,422.8 364.8,423.5C362.3,424.3 359.7,424.8 357.0,425.0C354.3,425.3 351.6,425.4 348.9,425.3C346.2,425.2 343.5,425.0 340.8,424.5C338.1,424.1 335.3,423.6 332.6,422.8C330.0,422.1 327.2,421.1 324.7,419.9C322.2,418.8 319.6,417.3 317.4,415.6C315.1,414.0 313.0,412.0 311.2,409.8C309.4,407.6 307.9,405.1 306.8,402.5C305.6,400.0 305.0,397.1 304.2,394.5C303.4,391.9 302.6,389.3 301.9,386.8C301.2,384.3 300.5,381.8 300.0,379.3C299.4,376.8 299.0,374.2 298.8,371.7C298.5,369.1 298.3,366.5 298.4,364.0C298.4,361.5 298.6,358.9 299.0,356.4C299.4,353.9 300.0,351.4 300.7,348.9C301.4,346.5 302.3,344.1 303.2,341.7C304.0,339.3 305.0,336.9 306.1,334.6C307.2,332.3 308.4,329.9 309.8,327.8C311.2,325.6 312.9,323.5 314.7,321.7C316.5,319.9 318.6,318.3 320.8,316.8C322.9,315.3 325.1,314.0 327.3,312.6C329.6,311.3 331.8,310.0 334.1,308.8C336.5,307.6 338.8,306.5 341.3,305.4C343.8,304.4 346.3,303.4 348.9,302.5C351.5,301.6 354.2,300.7 357.0,300.0C359.8,299.3 362.7,298.8 365.6,298.4C368.6,298.1 371.6,298.0 374.7,298.1C377.7,298.1 380.9,298.4 384.0,298.8C387.2,299.2 390.4,299.8 393.6,300.6C396.8,301.4 400.2,302.3 403.3,303.7C406.4,305.1 409.5,306.7 412.1,308.9C414.7,311.0 417.1,313.6 419.0,316.5C420.8,319.3 422.1,322.6 423.2,325.8C424.4,328.9 425.1,332.3 425.7,335.5C426.3,338.8 426.7,342.1 426.9,345.3C427.1,348.5 427.0,351.7 427.0,354.8C426.9,357.9 426.7,361.0 426.5,364.0Z" fill="#4DFFA9"/>
<path d="M411.7,364.0C411.8,366.4 411.9,368.8 411.6,371.2C411.4,373.6 410.9,376.0 410.2,378.3C409.5,380.5 408.6,382.8 407.5,384.9C406.3,387.0 404.9,388.9 403.3,390.7C401.8,392.5 400.1,394.2 398.3,395.7C396.5,397.2 394.6,398.5 392.7,399.7C390.7,400.8 388.7,401.8 386.6,402.6C384.6,403.4 382.4,403.9 380.5,404.6C378.5,405.3 376.6,405.9 374.7,406.8C372.9,407.8 371.3,409.5 369.4,410.3C367.5,411.2 365.4,411.9 363.3,412.2C361.3,412.5 359.1,412.4 357.0,412.3C354.9,412.1 352.8,411.8 350.8,411.1C348.8,410.4 346.9,409.4 345.2,408.2C343.4,407.0 342.1,405.1 340.5,403.9C338.9,402.7 337.2,402.0 335.6,401.1C333.9,400.2 332.1,399.6 330.4,398.6C328.7,397.7 327.0,396.7 325.5,395.5C323.9,394.3 322.4,393.0 321.1,391.6C319.7,390.1 318.5,388.5 317.4,386.9C316.3,385.2 315.3,383.4 314.5,381.6C313.7,379.8 313.0,377.9 312.4,375.9C311.8,374.0 311.2,372.1 310.8,370.1C310.4,368.1 309.9,366.0 309.8,364.0C309.7,362.0 309.7,359.8 309.9,357.8C310.2,355.8 310.8,353.7 311.5,351.8C312.2,349.9 313.3,348.1 314.2,346.3C315.1,344.5 316.2,342.7 317.2,341.0C318.2,339.3 319.0,337.4 320.3,335.9C321.6,334.3 323.2,332.9 324.9,331.9C326.7,330.9 328.9,330.4 330.8,329.9C332.8,329.4 334.9,329.3 336.7,328.9C338.6,328.5 340.3,328.6 341.8,327.4C343.3,326.2 344.2,323.5 345.7,321.7C347.1,319.9 348.9,317.6 350.8,316.6C352.6,315.6 354.9,315.5 357.0,315.6C359.1,315.7 361.2,316.4 363.2,317.0C365.2,317.6 367.1,318.5 369.0,319.1C371.0,319.8 372.9,320.3 374.9,320.9C376.8,321.4 378.9,322.0 380.9,322.6C382.9,323.3 385.0,324.0 387.0,325.0C389.0,325.9 391.0,326.9 392.9,328.1C394.8,329.3 396.7,330.7 398.4,332.2C400.1,333.8 401.7,335.5 403.1,337.4C404.4,339.3 405.5,341.4 406.5,343.5C407.5,345.6 408.3,347.8 409.0,350.1C409.7,352.3 410.3,354.6 410.7,356.9C411.2,359.2 411.6,361.6 411.7,364.0Z" fill="#A9FF4D"/>
<path d="M310.0,339.7C309.8,338.0 310.7,334.4 312.0,331.7C313.3,329.0 315.3,326.1 318.0,323.7C320.7,321.3 324.7,318.7 328.0,317.2C331.3,315.7 335.1,315.0 338.0,314.7C340.9,314.4 344.2,314.5 345.5,315.2C346.8,315.9 345.6,317.5 345.8,318.7C346.0,319.9 344.8,321.5 346.5,322.2C348.2,322.9 353.1,322.8 356.0,323.0C358.9,323.2 362.2,322.8 364.0,323.5C365.8,324.2 366.5,325.9 366.5,327.2C366.5,328.5 364.8,329.9 364.0,331.2C363.2,332.4 365.7,334.1 362.0,334.7C358.3,335.3 345.6,335.4 342.0,334.7C338.4,334.0 342.4,331.4 340.7,330.5C339.0,329.6 335.1,328.5 332.0,329.0C328.9,329.5 325.2,331.3 322.0,333.5C318.8,335.7 315.0,341.0 313.0,342.0C311.0,343.0 310.2,341.4 310.0,339.7Z" fill="#4DFFA9"/>
<path d="M394.2,364.0C394.5,365.6 394.8,367.3 394.9,369.0C395.1,370.7 395.1,372.4 395.0,374.2C394.8,375.9 394.5,377.7 394.1,379.4C393.6,381.0 393.0,382.7 392.1,384.3C391.3,385.8 390.3,387.3 389.1,388.7C388.0,390.0 386.6,391.2 385.3,392.3C383.9,393.4 382.5,394.4 381.0,395.3C379.5,396.2 378.0,397.0 376.4,397.7C374.9,398.4 373.3,398.9 371.7,399.4C370.1,399.9 368.4,400.3 366.8,400.6C365.2,400.9 363.5,401.1 361.9,401.2C360.3,401.3 358.6,401.4 357.0,401.3C355.4,401.2 353.8,401.0 352.2,400.7C350.6,400.5 349.0,400.1 347.5,399.6C345.9,399.1 344.4,398.6 342.9,398.0C341.5,397.3 340.0,396.6 338.6,395.8C337.2,395.0 335.9,394.2 334.6,393.2C333.2,392.3 331.9,391.3 330.7,390.3C329.5,389.2 328.4,388.0 327.4,386.7C326.4,385.5 325.5,384.1 324.7,382.6C323.9,381.2 323.3,379.7 322.7,378.2C322.1,376.7 321.7,375.1 321.3,373.6C321.0,372.0 320.8,370.4 320.7,368.8C320.6,367.2 320.6,365.6 320.7,364.0C320.7,362.4 321.0,360.8 321.2,359.3C321.5,357.7 321.8,356.2 322.2,354.7C322.6,353.2 323.1,351.7 323.6,350.2C324.2,348.7 324.8,347.2 325.5,345.8C326.2,344.4 327.0,343.0 328.0,341.7C328.9,340.4 329.9,339.2 331.1,338.1C332.2,337.0 333.5,335.9 334.8,335.0C336.1,334.1 337.5,332.4 338.9,332.6C340.3,332.8 341.8,335.6 343.3,336.2C344.8,336.8 346.4,336.2 347.9,336.2C349.4,336.2 351.0,336.2 352.5,336.2C354.0,336.2 355.5,336.2 357.0,336.2C358.5,336.2 360.0,337.0 361.4,336.2C362.9,335.4 364.3,331.9 365.8,331.3C367.2,330.7 368.6,332.1 370.0,332.6C371.4,333.0 372.9,333.5 374.3,334.1C375.7,334.7 377.1,335.3 378.4,336.1C379.6,337.0 380.8,338.0 381.9,339.1C383.0,340.2 383.9,341.4 384.8,342.7C385.7,343.9 386.5,345.2 387.2,346.5C388.0,347.9 388.7,349.2 389.4,350.6C390.0,352.0 390.7,353.4 391.2,354.8C391.8,356.3 392.4,357.7 392.9,359.3C393.4,360.8 393.8,362.4 394.2,364.0Z" fill="#FFE600"/>
<path d="M341.9,332.7C344.3,331.5 347.8,333.0 351.0,333.2C354.2,333.4 358.2,333.0 360.9,333.7C363.6,334.4 365.5,335.4 367.0,337.2C368.6,339.0 368.9,342.1 370.2,344.5C371.5,346.8 373.2,349.1 374.8,351.1C376.3,353.2 378.2,354.8 379.6,356.9C381.0,359.0 382.5,361.1 383.3,363.7C384.1,366.2 384.9,369.6 384.4,372.1C384.0,374.5 382.8,377.0 380.6,378.4C378.4,379.7 375.0,379.8 371.4,380.2C367.8,380.6 363.1,380.5 359.0,380.7C354.9,380.9 350.0,381.0 347.0,381.3C344.0,381.6 342.6,382.1 341.0,382.7C339.4,383.3 338.7,385.0 337.5,384.7C336.3,384.4 335.2,382.5 334.0,380.7C332.8,378.9 331.2,376.4 330.4,373.9C329.6,371.3 329.1,368.3 329.3,365.5C329.5,362.7 330.9,359.8 331.6,357.0C332.3,354.2 332.6,351.4 333.4,348.6C334.3,345.8 335.2,342.8 336.6,340.1C338.0,337.4 339.5,333.9 341.9,332.7Z" fill="#FF7D00"/>
<path d="M360.0,331.7C360.0,332.0 359.8,332.4 359.4,332.7C359.1,333.0 358.5,333.3 357.8,333.5C357.1,333.8 356.3,334.0 355.4,334.1C354.5,334.2 353.5,334.3 352.5,334.3C351.5,334.3 350.5,334.2 349.6,334.1C348.7,334.0 347.9,333.8 347.2,333.5C346.5,333.3 345.9,333.0 345.6,332.7C345.2,332.4 345.0,332.0 345.0,331.7C345.0,331.4 345.2,331.0 345.6,330.7C345.9,330.4 346.5,330.1 347.2,329.9C347.9,329.6 348.7,329.4 349.6,329.3C350.5,329.2 351.5,329.1 352.5,329.1C353.5,329.1 354.5,329.2 355.4,329.3C356.3,329.4 357.1,329.6 357.8,329.9C358.5,330.1 359.1,330.4 359.4,330.7C359.8,331.0 360.0,331.4 360.0,331.7Z" fill="#A9FF4D"/>
<path d="M361.8,336.0C361.8,336.4 361.6,336.8 361.3,337.1C361.0,337.5 360.5,337.8 359.9,338.1C359.3,338.4 358.6,338.7 357.8,338.9C356.9,339.1 356.0,339.3 355.0,339.4C354.1,339.5 353.0,339.6 352.0,339.6C351.0,339.6 349.9,339.5 349.0,339.4C348.0,339.3 347.1,339.1 346.2,338.9C345.4,338.7 344.7,338.4 344.1,338.1C343.5,337.8 343.0,337.5 342.7,337.1C342.4,336.8 342.2,336.4 342.2,336.0C342.2,335.6 342.4,335.2 342.7,334.9C343.0,334.5 343.5,334.2 344.1,333.9C344.7,333.6 345.4,333.3 346.2,333.1C347.1,332.9 348.0,332.7 349.0,332.6C349.9,332.5 351.0,332.4 352.0,332.4C353.0,332.4 354.1,332.5 355.0,332.6C356.0,332.7 356.9,332.9 357.8,333.1C358.6,333.3 359.3,333.6 359.9,333.9C360.5,334.2 361.0,334.5 361.3,334.9C361.6,335.2 361.8,335.6 361.8,336.0Z" fill="#FF1400"/>
</g></g>
<circle cx="347.5" cy="257.9" r="2.6" fill="none" stroke="#000" stroke-width="0.8"/><line x1="344.5" y1="257.9" x2="350.5" y2="257.9" stroke="#111" stroke-width="1.1"/><rect x="356.1" y="255.9" width="8.2" height="4.6" fill="none" stroke="#111" stroke-width="0.8"/><rect x="412.5" y="255.9" width="8.2" height="4.6" fill="none" stroke="#111" stroke-width="0.8"/><circle cx="426.5" cy="257.9" r="2.6" fill="none" stroke="#000" stroke-width="0.8"/><line x1="423.5" y1="257.9" x2="429.5" y2="257.9" stroke="#111" stroke-width="1.1"/><line x1="410.6" y1="266.8" x2="415.1" y2="266.8" stroke="#111" stroke-width="1.1"/><line x1="427.0" y1="266.8" x2="431.5" y2="266.8" stroke="#111" stroke-width="1.1"/><line x1="410.6" y1="275.9" x2="415.1" y2="275.9" stroke="#111" stroke-width="1.1"/><line x1="427.0" y1="275.9" x2="431.5" y2="275.9" stroke="#111" stroke-width="1.1"/><circle cx="349.0" cy="313.7" r="2.2" fill="#000050" stroke="#000" stroke-width="1.0"/><rect x="355.8" y="311.3" width="8.2" height="4.6" fill="none" stroke="#333" stroke-width="0.8"/><rect x="412.8" y="311.5" width="8.2" height="4.6" fill="none" stroke="#222" stroke-width="0.8"/><circle cx="427.4" cy="313.8" r="2.8" fill="#000070" stroke="#000" stroke-width="1.0"/><line x1="345.0" y1="319.7" x2="349.5" y2="319.7" stroke="#333" stroke-width="1.1"/><line x1="358.5" y1="319.7" x2="363.0" y2="319.7" stroke="#333" stroke-width="1.1"/><circle cx="348.8" cy="364.2" r="2.8" fill="#0000d8" stroke="#000" stroke-width="1.3"/><line x1="343.5" y1="364.2" x2="346.0" y2="364.2" stroke="#000" stroke-width="1.1"/><rect x="355.6" y="362.0" width="8.7" height="5.0" fill="none" stroke="#222" stroke-width="0.8"/><ellipse cx="373.9" cy="364.0" rx="1.3" ry="2.4" fill="#c8e040" stroke="#333" stroke-width="0.6"/><rect x="413.1" y="361.6" width="7.9" height="5.0" fill="none" stroke="#222" stroke-width="0.8"/><circle cx="428.0" cy="364.3" r="3.0" fill="#000070" stroke="#000" stroke-width="1.0"/><line x1="341.5" y1="373.5" x2="346.0" y2="373.5" stroke="#333" stroke-width="1.1"/><line x1="358.0" y1="373.5" x2="362.5" y2="373.5" stroke="#333" stroke-width="1.1"/>
<text x="300.9" y="284.57" transform="rotate(-29.5 300.9 279.8)" text-anchor="middle" font-family="DejaVu Sans, sans-serif" font-size="13.1" fill="#000">0.090</text>
<text x="359.7" y="311.57" transform="rotate(47.5 359.7 306.8)" text-anchor="middle" font-family="DejaVu Sans, sans-serif" font-size="13.1" fill="#000">0.180</text>
<text x="456.1" y="346.77" transform="rotate(85.0 456.1 342.0)" text-anchor="middle" font-family="DejaVu Sans, sans-serif" font-size="13.1" fill="#000">0.135</text>
<text x="372.5" y="383.47" transform="rotate(-7.0 372.5 378.7)" text-anchor="middle" font-family="DejaVu Sans, sans-serif" font-size="13.1" fill="#000">0.315</text>
<text x="383.5" y="395.97" transform="rotate(-29.0 383.5 391.2)" text-anchor="middle" font-family="DejaVu Sans, sans-serif" font-size="13.1" fill="#000">0.270</text>
<text x="323.4" y="404.97" transform="rotate(27.0 323.4 400.2)" text-anchor="middle" font-family="DejaVu Sans, sans-serif" font-size="13.1" fill="#000">0.225</text>
<text x="395.7" y="461.97" transform="rotate(0.0 395.7 457.2)" text-anchor="middle" font-family="DejaVu Sans, sans-serif" font-size="13.1" fill="#000">0.045</text>
<text x="305.6" y="468.67" transform="rotate(0.0 305.6 463.9)" text-anchor="middle" font-family="DejaVu Sans, sans-serif" font-size="13.1" fill="#000">0.000</text>
</g>
<rect x="491.6" y="420.84" width="17.4" height="43.96" fill="#000080"/>
<rect x="491.6" y="377.18" width="17.4" height="43.96" fill="#0000FF"/>
<rect x="491.6" y="333.52" width="17.4" height="43.96" fill="#0063FF"/>
<rect x="491.6" y="289.86" width="17.4" height="43.96" fill="#00D4FF"/>
<rect x="491.6" y="246.20" width="17.4" height="43.96" fill="#4DFFA9"/>
<rect x="491.6" y="202.54" width="17.4" height="43.96" fill="#A9FF4D"/>
<rect x="491.6" y="158.88" width="17.4" height="43.96" fill="#FFE600"/>
<rect x="491.6" y="115.22" width="17.4" height="43.96" fill="#FF7D00"/>
<rect x="491.6" y="71.56" width="17.4" height="43.96" fill="#FF1400"/>
<rect x="491.6" y="27.90" width="17.4" height="43.96" fill="#800000"/>
<rect x="491.6" y="27.9" width="17.4" height="436.6" fill="none" stroke="#000" stroke-width="1"/>
<text x="529.4" y="36.7" text-anchor="middle" font-family="Liberation Serif, serif" font-size="18.3" fill="#111">0.47</text>
<text x="529.4" y="79.8" text-anchor="middle" font-family="Liberation Serif, serif" font-size="18.3" fill="#111">0.41</text>
<text x="529.4" y="122.9" text-anchor="middle" font-family="Liberation Serif, serif" font-size="18.3" fill="#111">0.36</text>
<text x="529.4" y="166.0" text-anchor="middle" font-family="Liberation Serif, serif" font-size="18.3" fill="#111">0.32</text>
<text x="529.4" y="209.1" text-anchor="middle" font-family="Liberation Serif, serif" font-size="18.3" fill="#111">0.27</text>
<text x="529.4" y="252.2" text-anchor="middle" font-family="Liberation Serif, serif" font-size="18.3" fill="#111">0.23</text>
<text x="529.4" y="295.2" text-anchor="middle" font-family="Liberation Serif, serif" font-size="18.3" fill="#111">0.18</text>
<text x="529.4" y="338.3" text-anchor="middle" font-family="Liberation Serif, serif" font-size="18.3" fill="#111">0.14</text>
<text x="529.4" y="381.4" text-anchor="middle" font-family="Liberation Serif, serif" font-size="18.3" fill="#111">0.09</text>
<text x="529.4" y="424.5" text-anchor="middle" font-family="Liberation Serif, serif" font-size="18.3" fill="#111">0.05</text>
<text x="529.4" y="467.6" text-anchor="middle" font-family="Liberation Serif, serif" font-size="18.3" fill="#111">0</text>
<text x="473.2" y="17.6" font-family="Liberation Serif, serif" font-size="18" fill="#111" textLength="62.7" lengthAdjust="spacingAndGlyphs">P (barg)</text>
</svg></body></html>
